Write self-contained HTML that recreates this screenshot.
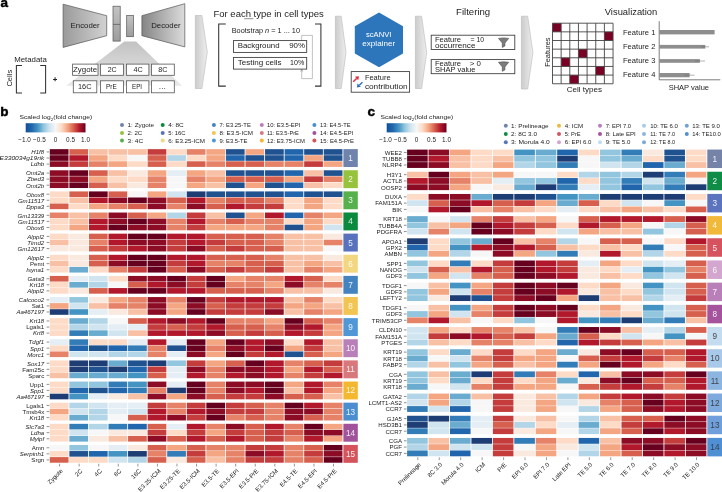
<!DOCTYPE html>
<html lang="en"><head><meta charset="utf-8"><title>Figure</title>
<style>html,body{margin:0;padding:0;background:#fff;}body{width:722px;height:492px;overflow:hidden;}svg{display:block;font-family:'Liberation Sans', sans-serif;}text{fill:#1c1c1c;}</style>
</head><body>
<svg width="722" height="492" viewBox="0 0 722 492">
<defs>
<linearGradient id="gEnc" x1="0" x2="1" y1="0" y2="0"><stop offset="0" stop-color="#9a9a9a"/><stop offset="1" stop-color="#d2d2d2"/></linearGradient>
<linearGradient id="gDec" x1="0" x2="1" y1="0" y2="0"><stop offset="0" stop-color="#858585"/><stop offset="1" stop-color="#dcdcdc"/></linearGradient>
<linearGradient id="gBar" x1="0" x2="0" y1="0" y2="1"><stop offset="0" stop-color="#c4c4c4"/><stop offset="1" stop-color="#9c9c9c"/></linearGradient>
<linearGradient id="gArr" x1="0" x2="1" y1="0" y2="0"><stop offset="0" stop-color="#cccccc"/><stop offset="1" stop-color="#eeeeee"/></linearGradient>
<linearGradient id="gTri" x1="0" x2="0" y1="0" y2="1"><stop offset="0" stop-color="#c2c2c2"/><stop offset="1" stop-color="#e9e9e9"/></linearGradient>
<linearGradient id="gCb" x1="0" x2="1" y1="0" y2="0"><stop offset="0.00" stop-color="#0f4f9a"/><stop offset="0.10" stop-color="#2166ac"/><stop offset="0.20" stop-color="#4393c3"/><stop offset="0.30" stop-color="#92c5de"/><stop offset="0.40" stop-color="#d1e5f0"/><stop offset="0.50" stop-color="#f7f7f7"/><stop offset="0.60" stop-color="#fddbc7"/><stop offset="0.70" stop-color="#f4a582"/><stop offset="0.80" stop-color="#d6604d"/><stop offset="0.90" stop-color="#b2182b"/><stop offset="1.00" stop-color="#67001f"/></linearGradient>
</defs>
<g id="panel-a">
<text x="0.5" y="6.5" font-size="13.5" font-weight="bold" style="fill:#000" stroke="#000" stroke-width="0.45">a</text>
<polygon points="124.3,41.4 136.1,41.4 182,85.7 66.2,85.7" fill="url(#gTri)"/>
<polygon points="63.1,4.2 106.7,15.7 106.7,35.7 63.1,47.4" fill="url(#gEnc)" stroke="#555" stroke-width="0.7"/>
<text x="70.6" y="27.7" font-size="7.4" textLength="29.1" lengthAdjust="spacingAndGlyphs">Encoder</text>
<rect x="113" y="6.2" width="7.2" height="34.9" fill="url(#gBar)" stroke="#555" stroke-width="0.7"/>
<line x1="113" x2="120.2" y1="24.4" y2="24.4" stroke="#555" stroke-width="0.7"/>
<rect x="126.7" y="15.5" width="6.7" height="21.2" fill="url(#gBar)" stroke="#555" stroke-width="0.7"/>
<polygon points="141.9,15.7 184.8,3.7 184.8,46.9 141.9,35.7" fill="url(#gDec)" stroke="#555" stroke-width="0.7"/>
<text x="151.2" y="27.7" font-size="7.4" textLength="29.4" lengthAdjust="spacingAndGlyphs">Decoder</text>
<text x="14.2" y="61.8" font-size="7.2" textLength="32.7" lengthAdjust="spacingAndGlyphs">Metadata</text>
<text transform="translate(11.5,86.6) rotate(-90)" font-size="7.4" textLength="16.8" lengthAdjust="spacingAndGlyphs">Cells</text>
<path d="M22,65.4 H16.4 V93 H22 M40.2,65.4 H45.6 V93 H40.2" fill="none" stroke="#333" stroke-width="1.05"/>
<text x="55.2" y="81.9" font-size="7.2" text-anchor="middle" stroke="#1c1c1c" stroke-width="0.35">+</text>
<rect x="72.6" y="64.1" width="25.4" height="11.2" fill="#fff" stroke="#555" stroke-width="0.8"/>
<text x="73.0" y="71.9" font-size="7.2" textLength="24.2" lengthAdjust="spacingAndGlyphs">Zygote</text>
<rect x="100.5" y="64.1" width="22.9" height="11.2" fill="#fff" stroke="#555" stroke-width="0.8"/>
<text x="107.7" y="71.9" font-size="7.2" textLength="9.0" lengthAdjust="spacingAndGlyphs">2C</text>
<rect x="126.4" y="64.1" width="22.5" height="11.2" fill="#fff" stroke="#555" stroke-width="0.8"/>
<text x="133.4" y="71.9" font-size="7.2" textLength="9.2" lengthAdjust="spacingAndGlyphs">4C</text>
<rect x="151.4" y="64.1" width="22.9" height="11.2" fill="#fff" stroke="#555" stroke-width="0.8"/>
<text x="158.3" y="71.9" font-size="7.2" textLength="9.2" lengthAdjust="spacingAndGlyphs">8C</text>
<rect x="73.3" y="80.8" width="23.5" height="12.0" fill="#fff" stroke="#555" stroke-width="0.8"/>
<text x="78.0" y="89.1" font-size="7.2" textLength="13.5" lengthAdjust="spacingAndGlyphs">16C</text>
<rect x="100.5" y="80.8" width="22.9" height="12.0" fill="#fff" stroke="#555" stroke-width="0.8"/>
<text x="106.0" y="89.1" font-size="7.2" textLength="10.7" lengthAdjust="spacingAndGlyphs">PrE</text>
<rect x="126.4" y="80.8" width="22.5" height="12.0" fill="#fff" stroke="#555" stroke-width="0.8"/>
<text x="132.1" y="89.1" font-size="7.2" textLength="10.0" lengthAdjust="spacingAndGlyphs">EPI</text>
<rect x="151.4" y="80.8" width="22.9" height="12.0" fill="#fff" stroke="#555" stroke-width="0.8"/>
<text x="158.8" y="89.1" font-size="7.2" textLength="7.0" lengthAdjust="spacingAndGlyphs">...</text>
<polygon points="195.3,15.5 201.9,15.5 207.3,52.0 201.9,88.5 195.3,88.5" fill="url(#gArr)" stroke="#b9b9b9" stroke-width="0.6"/>
<polygon points="335.4,16.2 341.2,16.2 346.0,52.4 341.2,88.5 335.4,88.5" fill="url(#gArr)" stroke="#b9b9b9" stroke-width="0.6"/>
<polygon points="415.4,16.2 421.6,16.2 426.7,52.4 421.6,88.5 415.4,88.5" fill="url(#gArr)" stroke="#b9b9b9" stroke-width="0.6"/>
<polygon points="521.4,16.2 527.7,16.2 532.9,52.6 527.7,89.0 521.4,89.0" fill="url(#gArr)" stroke="#b9b9b9" stroke-width="0.6"/>
<text x="213.5" y="17.3" font-size="8.7" textLength="110.2" lengthAdjust="spacingAndGlyphs">For each type in cell types</text>
<line x1="244.3" x2="253.3" y1="18.7" y2="18.7" stroke="#333" stroke-width="0.55"/>
<path d="M225.8,23.9 H218.7 V86.1 H225.8 M315,23.9 H320.9 V86.1 H315" fill="none" stroke="#333" stroke-width="1.05"/>
<text x="231.7" y="33.3" font-size="7.2" textLength="68.3" lengthAdjust="spacingAndGlyphs">Bootstrap <tspan font-style="italic">n</tspan> = 1 ... 10</text>
<path d="M301.7,35.4 H312.4 V78.6 H301.7 V69.5" fill="none" stroke="#999" stroke-width="0.6"/>
<line x1="301.7" x2="301.7" y1="35.4" y2="40.6" stroke="#999" stroke-width="0.6"/>
<path d="M300.6,71.6 L301.7,69.3 L302.8,71.6" fill="none" stroke="#777" stroke-width="0.5"/>
<rect x="233.5" y="40.6" width="73.2" height="11.8" fill="#fff" stroke="#383838" stroke-width="0.85"/>
<text x="237.7" y="48.2" font-size="7.4" textLength="41.9" lengthAdjust="spacingAndGlyphs">Background</text>
<text x="289.2" y="48.2" font-size="7.4" textLength="15.8" lengthAdjust="spacingAndGlyphs">90%</text>
<rect x="233.5" y="57.4" width="73.2" height="11.7" fill="#fff" stroke="#383838" stroke-width="0.85"/>
<text x="237.7" y="65.2" font-size="7.4" textLength="43.9" lengthAdjust="spacingAndGlyphs">Testing cells</text>
<text x="290.0" y="65.2" font-size="7.4" textLength="14.2" lengthAdjust="spacingAndGlyphs">10%</text>
<polygon points="379,12.5 403,26.2 403,53.6 379,67.3 354.8,53.6 354.8,26.2" fill="#2e76bc"/>
<text x="366.0" y="37.1" font-size="7.4" textLength="25.4" lengthAdjust="spacingAndGlyphs" style="fill:#fff">scANVI</text>
<text x="362.3" y="46.0" font-size="7.4" textLength="32.9" lengthAdjust="spacingAndGlyphs" style="fill:#fff">explainer</text>
<rect x="351.2" y="71.6" width="58.4" height="20.6" fill="#fff" stroke="#383838" stroke-width="0.85"/>
<text x="364.9" y="79.7" font-size="7.4" textLength="25.7" lengthAdjust="spacingAndGlyphs">Feature</text>
<text x="364.9" y="89.3" font-size="7.4" textLength="42.7" lengthAdjust="spacingAndGlyphs">contribution</text>
<path d="M353.2,81.8 L356.6,78.5" stroke="#e0263c" stroke-width="1.4" fill="none"/><polygon points="358.9,76.2 358.3,80.2 354.9,76.8" fill="#e0263c"/>
<path d="M362.5,82.2 L359.3,85.2" stroke="#2f6fc0" stroke-width="1.4" fill="none"/><polygon points="356.9,87.4 357.5,83.4 360.9,86.8" fill="#2f6fc0"/>
<text x="456.1" y="15.1" font-size="8.8" textLength="34.1" lengthAdjust="spacingAndGlyphs">Filtering</text>
<rect x="431.2" y="35.2" width="83.6" height="14.3" fill="#fff" stroke="#383838" stroke-width="0.85"/>
<text x="434.9" y="41.7" font-size="7.0" textLength="26.2" lengthAdjust="spacingAndGlyphs">Feature</text>
<text x="470.6" y="41.7" font-size="7.0" textLength="13.4" lengthAdjust="spacingAndGlyphs">= 10</text>
<text x="434.9" y="47.9" font-size="7.0" textLength="40.6" lengthAdjust="spacingAndGlyphs">occurrence</text>
<path d="M498.5,38.4 q5.1,-1 10.2,0 l-3.8,4.6 v3 l-2.6,1.4 v-4.4 z" fill="#7c7c7c" stroke="#4a4a4a" stroke-width="0.6" stroke-linejoin="round"/>
<rect x="431.2" y="59.6" width="83.6" height="14.1" fill="#fff" stroke="#383838" stroke-width="0.85"/>
<text x="434.9" y="66.1" font-size="7.0" textLength="26.2" lengthAdjust="spacingAndGlyphs">Feature</text>
<text x="469.8" y="66.1" font-size="7.0" textLength="11.2" lengthAdjust="spacingAndGlyphs">&gt; 0</text>
<text x="434.9" y="72.4" font-size="7.0" textLength="40.6" lengthAdjust="spacingAndGlyphs">SHAP value</text>
<path d="M498.5,62.3 q5.1,-1 10.2,0 l-3.8,4.6 v3 l-2.6,1.4 v-4.4 z" fill="#7c7c7c" stroke="#4a4a4a" stroke-width="0.6" stroke-linejoin="round"/>
<text x="604.8" y="15.2" font-size="8.8" textLength="52.4" lengthAdjust="spacingAndGlyphs">Visualization</text>
<rect x="569.80" y="75.10" width="8.65" height="8.65" fill="#7a0026"/>
<rect x="595.75" y="66.45" width="8.65" height="8.65" fill="#7a0026"/>
<rect x="578.45" y="49.15" width="8.65" height="8.65" fill="#7a0026"/>
<rect x="552.50" y="23.20" width="8.65" height="8.65" fill="#7a0026"/>
<rect x="604.40" y="31.85" width="8.65" height="8.65" fill="#7a0026"/>
<rect x="561.15" y="57.80" width="8.65" height="8.65" fill="#7a0026"/>
<path d="M552.50,23.20 V83.75 M552.50,23.20 H613.05 M561.15,23.20 V83.75 M552.50,31.85 H613.05 M569.80,23.20 V83.75 M552.50,40.50 H613.05 M578.45,23.20 V83.75 M552.50,49.15 H613.05 M587.10,23.20 V83.75 M552.50,57.80 H613.05 M595.75,23.20 V83.75 M552.50,66.45 H613.05 M604.40,23.20 V83.75 M552.50,75.10 H613.05 M613.05,23.20 V83.75 M552.50,83.75 H613.05 " stroke="#444" stroke-width="0.9" fill="none"/>
<text transform="translate(549.6,66.8) rotate(-90)" font-size="7.5" textLength="29.3" lengthAdjust="spacingAndGlyphs">Features</text>
<text x="566.7" y="92.3" font-size="7.4" textLength="35.4" lengthAdjust="spacingAndGlyphs">Cell types</text>
<path d="M659.2,21.2 V79.8 H720.3" fill="none" stroke="#444" stroke-width="0.7"/>
<rect x="659.2" y="30.0" width="55.4" height="4.4" fill="#8e8e8e"/>
<text x="623.0" y="34.5" font-size="7.4" textLength="32.4" lengthAdjust="spacingAndGlyphs">Feature 1</text>
<rect x="659.2" y="44.9" width="46.1" height="3.7" fill="#8e8e8e"/>
<path d="M701.5,46.8 H709.0" stroke="#666" stroke-width="0.5" fill="none"/>
<text x="623.0" y="48.7" font-size="7.4" textLength="32.4" lengthAdjust="spacingAndGlyphs">Feature 2</text>
<rect x="659.2" y="59.1" width="40.7" height="3.7" fill="#8e8e8e"/>
<path d="M695.0,61.0 H705.0" stroke="#666" stroke-width="0.5" fill="none"/>
<text x="623.0" y="62.9" font-size="7.4" textLength="32.4" lengthAdjust="spacingAndGlyphs">Feature 3</text>
<rect x="659.2" y="73.0" width="30.4" height="4.3" fill="#8e8e8e"/>
<path d="M684.5,75.2 H694.5" stroke="#666" stroke-width="0.5" fill="none"/>
<text x="623.0" y="77.4" font-size="7.4" textLength="32.4" lengthAdjust="spacingAndGlyphs">Feature 4</text>
<text x="668.7" y="90.0" font-size="7.4" textLength="40.3" lengthAdjust="spacingAndGlyphs">SHAP value</text>
</g>
<text x="0.2" y="115.9" font-size="13.5" font-weight="bold" style="fill:#000" stroke="#000" stroke-width="0.45">b</text>
<text x="19.5" y="119.4" font-size="6.0" textLength="72.7" lengthAdjust="spacingAndGlyphs">Scaled log<tspan font-size="4" dy="1.3">2</tspan><tspan dy="-1.3">(fold change)</tspan></text>
<rect x="25.7" y="123.2" width="59.8" height="9.2" fill="url(#gCb)"/>
<text x="24.5" y="142.3" font-size="6.4" text-anchor="middle">−1.0</text>
<text x="39.4" y="142.3" font-size="6.4" text-anchor="middle">−0.5</text>
<text x="55.6" y="142.3" font-size="6.4" text-anchor="middle">0</text>
<text x="70.5" y="142.3" font-size="6.4" text-anchor="middle">0.5</text>
<text x="85.5" y="142.3" font-size="6.4" text-anchor="middle">1.0</text>
<text x="367.5" y="115.9" font-size="13.5" font-weight="bold" style="fill:#000" stroke="#000" stroke-width="0.45">c</text>
<text x="380.5" y="119.4" font-size="6.0" textLength="72.7" lengthAdjust="spacingAndGlyphs">Scaled log<tspan font-size="4" dy="1.3">2</tspan><tspan dy="-1.3">(fold change)</tspan></text>
<rect x="386.7" y="123.2" width="59.8" height="9.2" fill="url(#gCb)"/>
<text x="385.5" y="142.3" font-size="6.4" text-anchor="middle">−1.0</text>
<text x="400.4" y="142.3" font-size="6.4" text-anchor="middle">−0.5</text>
<text x="416.6" y="142.3" font-size="6.4" text-anchor="middle">0</text>
<text x="431.5" y="142.3" font-size="6.4" text-anchor="middle">0.5</text>
<text x="446.5" y="142.3" font-size="6.4" text-anchor="middle">1.0</text>
<circle cx="122.0" cy="125.1" r="2" fill="#7083ad"/>
<text x="127.6" y="127.0" font-size="6.1" textLength="26.4" lengthAdjust="spacingAndGlyphs">1: Zygote</text>
<circle cx="122.0" cy="132.9" r="2" fill="#96c23c"/>
<text x="127.6" y="134.8" font-size="6.1" textLength="14.6" lengthAdjust="spacingAndGlyphs">2: 2C</text>
<circle cx="122.0" cy="140.6" r="2" fill="#56b14d"/>
<text x="127.6" y="142.5" font-size="6.1" textLength="15.6" lengthAdjust="spacingAndGlyphs">3: 4C</text>
<circle cx="162.7" cy="125.1" r="2" fill="#0a8a3c"/>
<text x="168.3" y="127.0" font-size="6.1" textLength="15.4" lengthAdjust="spacingAndGlyphs">4: 8C</text>
<circle cx="162.7" cy="132.9" r="2" fill="#5872bd"/>
<text x="168.3" y="134.8" font-size="6.1" textLength="17.3" lengthAdjust="spacingAndGlyphs">5: 16C</text>
<circle cx="162.7" cy="140.6" r="2" fill="#f2d680"/>
<text x="168.3" y="142.5" font-size="6.1" textLength="36.7" lengthAdjust="spacingAndGlyphs">6: E3.25-ICM</text>
<circle cx="213.9" cy="125.1" r="2" fill="#4383c0"/>
<text x="219.6" y="127.0" font-size="6.1" textLength="31.2" lengthAdjust="spacingAndGlyphs">7: E3.25-TE</text>
<circle cx="213.9" cy="132.9" r="2" fill="#f2c451"/>
<text x="219.6" y="134.8" font-size="6.1" textLength="33.3" lengthAdjust="spacingAndGlyphs">8: E3.5-ICM</text>
<circle cx="213.9" cy="140.6" r="2" fill="#4f97d6"/>
<text x="219.6" y="142.5" font-size="6.1" textLength="27.9" lengthAdjust="spacingAndGlyphs">9: E3.5-TE</text>
<circle cx="261.8" cy="125.1" r="2" fill="#b97fb8"/>
<text x="266.9" y="127.0" font-size="6.1" textLength="33.5" lengthAdjust="spacingAndGlyphs">10: E3.5-EPI</text>
<circle cx="261.8" cy="132.9" r="2" fill="#d9787c"/>
<text x="266.9" y="134.8" font-size="6.1" textLength="31.9" lengthAdjust="spacingAndGlyphs">11: E3.5-PrE</text>
<circle cx="261.8" cy="140.6" r="2" fill="#f3b730"/>
<text x="266.9" y="142.5" font-size="6.1" textLength="37.9" lengthAdjust="spacingAndGlyphs">12: E3.75-ICM</text>
<circle cx="314.4" cy="125.1" r="2" fill="#4a8ed0"/>
<text x="320.0" y="127.0" font-size="6.1" textLength="30.5" lengthAdjust="spacingAndGlyphs">13: E4.5-TE</text>
<circle cx="314.4" cy="132.9" r="2" fill="#a0529a"/>
<text x="320.0" y="134.8" font-size="6.1" textLength="33.2" lengthAdjust="spacingAndGlyphs">14: E4.5-EPI</text>
<circle cx="314.4" cy="140.6" r="2" fill="#d5545c"/>
<text x="320.0" y="142.5" font-size="6.1" textLength="33.9" lengthAdjust="spacingAndGlyphs">15: E4.5-PrE</text>
<circle cx="505.8" cy="125.7" r="2" fill="#7583a8"/>
<text x="511.1" y="127.6" font-size="6.1" textLength="37.4" lengthAdjust="spacingAndGlyphs">1: Prelineage</text>
<circle cx="505.8" cy="134.0" r="2" fill="#0f8c45"/>
<text x="511.1" y="135.9" font-size="6.1" textLength="25.9" lengthAdjust="spacingAndGlyphs">2: 8C 3.0</text>
<circle cx="505.8" cy="142.3" r="2" fill="#5b74bd"/>
<text x="511.1" y="144.2" font-size="6.1" textLength="38.7" lengthAdjust="spacingAndGlyphs">3: Morula 4.0</text>
<circle cx="559.0" cy="125.7" r="2" fill="#f0b93a"/>
<text x="564.8" y="127.6" font-size="6.1" textLength="18.3" lengthAdjust="spacingAndGlyphs">4: ICM</text>
<circle cx="559.0" cy="134.0" r="2" fill="#d4535e"/>
<text x="564.8" y="135.9" font-size="6.1" textLength="15.8" lengthAdjust="spacingAndGlyphs">5: PrE</text>
<circle cx="559.0" cy="142.3" r="2" fill="#d3a6cf"/>
<text x="564.8" y="144.2" font-size="6.1" textLength="26.6" lengthAdjust="spacingAndGlyphs">6: EPI 6.0</text>
<circle cx="600.0" cy="125.7" r="2" fill="#b97fb8"/>
<text x="605.7" y="127.6" font-size="6.1" textLength="25.4" lengthAdjust="spacingAndGlyphs">7: EPI 7.0</text>
<circle cx="600.0" cy="134.0" r="2" fill="#a4539c"/>
<text x="605.7" y="135.9" font-size="6.1" textLength="30.0" lengthAdjust="spacingAndGlyphs">8: Late EPI</text>
<circle cx="600.0" cy="142.3" r="2" fill="#c4dcf0"/>
<text x="605.7" y="144.2" font-size="6.1" textLength="24.6" lengthAdjust="spacingAndGlyphs">9: TE 5.0</text>
<circle cx="644.0" cy="125.7" r="2" fill="#a9c9ea"/>
<text x="650.2" y="127.6" font-size="6.1" textLength="27.8" lengthAdjust="spacingAndGlyphs">10: TE 6.0</text>
<circle cx="644.0" cy="134.0" r="2" fill="#8db5e2"/>
<text x="650.2" y="135.9" font-size="6.1" textLength="24.9" lengthAdjust="spacingAndGlyphs">11: TE 7.0</text>
<circle cx="644.0" cy="142.3" r="2" fill="#7eaade"/>
<text x="650.2" y="144.2" font-size="6.1" textLength="24.9" lengthAdjust="spacingAndGlyphs">12: TE 8.0</text>
<circle cx="686.8" cy="125.7" r="2" fill="#6fa0db"/>
<text x="692.2" y="127.6" font-size="6.1" textLength="27.8" lengthAdjust="spacingAndGlyphs">13: TE 9.0</text>
<circle cx="686.8" cy="134.0" r="2" fill="#4f8fd4"/>
<text x="692.2" y="135.9" font-size="6.1" textLength="28.6" lengthAdjust="spacingAndGlyphs">14: TE10.0</text>
<rect x="49.80" y="149.15" width="18.72" height="5.62" fill="#67001f"/>
<rect x="69.37" y="149.15" width="18.72" height="5.62" fill="#d6604d"/>
<rect x="88.93" y="149.15" width="18.72" height="5.62" fill="#f8c0a4"/>
<rect x="108.50" y="149.15" width="18.72" height="5.62" fill="#f8c0a4"/>
<rect x="128.07" y="149.15" width="18.72" height="5.62" fill="#f8c0a4"/>
<rect x="147.63" y="149.15" width="18.72" height="5.62" fill="#c43c3c"/>
<rect x="167.20" y="149.15" width="18.72" height="5.62" fill="#fddbc7"/>
<rect x="186.77" y="149.15" width="18.72" height="5.62" fill="#e58268"/>
<rect x="206.33" y="149.15" width="18.72" height="5.62" fill="#f4a582"/>
<rect x="225.90" y="149.15" width="18.72" height="5.62" fill="#205290"/>
<rect x="245.47" y="149.15" width="18.72" height="5.62" fill="#f4a582"/>
<rect x="265.03" y="149.15" width="18.72" height="5.62" fill="#205290"/>
<rect x="284.60" y="149.15" width="18.72" height="5.62" fill="#2166ac"/>
<rect x="304.17" y="149.15" width="18.72" height="5.62" fill="#205290"/>
<rect x="323.73" y="149.15" width="18.72" height="5.62" fill="#205290"/>
<line x1="46.6" x2="49.3" y1="151.93" y2="151.93" stroke="#333" stroke-width="0.55"/>
<text x="44.2" y="154.28" font-size="6.1" text-anchor="end" font-style="italic">H1f8</text>
<rect x="49.80" y="155.22" width="18.72" height="5.62" fill="#67001f"/>
<rect x="69.37" y="155.22" width="18.72" height="5.62" fill="#b2182b"/>
<rect x="88.93" y="155.22" width="18.72" height="5.62" fill="#f4a582"/>
<rect x="108.50" y="155.22" width="18.72" height="5.62" fill="#fddbc7"/>
<rect x="128.07" y="155.22" width="18.72" height="5.62" fill="#f7f7f7"/>
<rect x="147.63" y="155.22" width="18.72" height="5.62" fill="#d6604d"/>
<rect x="167.20" y="155.22" width="18.72" height="5.62" fill="#b2d5e7"/>
<rect x="186.77" y="155.22" width="18.72" height="5.62" fill="#fddbc7"/>
<rect x="206.33" y="155.22" width="18.72" height="5.62" fill="#f4a582"/>
<rect x="225.90" y="155.22" width="18.72" height="5.62" fill="#2166ac"/>
<rect x="245.47" y="155.22" width="18.72" height="5.62" fill="#205290"/>
<rect x="265.03" y="155.22" width="18.72" height="5.62" fill="#205290"/>
<rect x="284.60" y="155.22" width="18.72" height="5.62" fill="#2166ac"/>
<rect x="304.17" y="155.22" width="18.72" height="5.62" fill="#f4a582"/>
<rect x="323.73" y="155.22" width="18.72" height="5.62" fill="#205290"/>
<line x1="46.6" x2="49.3" y1="158.00" y2="158.00" stroke="#333" stroke-width="0.55"/>
<text x="44.2" y="160.35" font-size="6.1" text-anchor="end" font-style="italic" textLength="44.6" lengthAdjust="spacingAndGlyphs">E330034g19rik</text>
<rect x="49.80" y="161.28" width="18.72" height="5.62" fill="#8c0c25"/>
<rect x="69.37" y="161.28" width="18.72" height="5.62" fill="#c43c3c"/>
<rect x="88.93" y="161.28" width="18.72" height="5.62" fill="#e58268"/>
<rect x="108.50" y="161.28" width="18.72" height="5.62" fill="#f4a582"/>
<rect x="128.07" y="161.28" width="18.72" height="5.62" fill="#fddbc7"/>
<rect x="147.63" y="161.28" width="18.72" height="5.62" fill="#d6604d"/>
<rect x="167.20" y="161.28" width="18.72" height="5.62" fill="#fddbc7"/>
<rect x="186.77" y="161.28" width="18.72" height="5.62" fill="#d6604d"/>
<rect x="206.33" y="161.28" width="18.72" height="5.62" fill="#e58268"/>
<rect x="225.90" y="161.28" width="18.72" height="5.62" fill="#d6604d"/>
<rect x="245.47" y="161.28" width="18.72" height="5.62" fill="#d6604d"/>
<rect x="265.03" y="161.28" width="18.72" height="5.62" fill="#e58268"/>
<rect x="284.60" y="161.28" width="18.72" height="5.62" fill="#e58268"/>
<rect x="304.17" y="161.28" width="18.72" height="5.62" fill="#c43c3c"/>
<rect x="323.73" y="161.28" width="18.72" height="5.62" fill="#f4a582"/>
<line x1="46.6" x2="49.3" y1="164.07" y2="164.07" stroke="#333" stroke-width="0.55"/>
<text x="44.2" y="166.42" font-size="6.1" text-anchor="end" font-style="italic">Ldhb</text>
<rect x="49.80" y="170.28" width="18.72" height="5.62" fill="#8c0c25"/>
<rect x="69.37" y="170.28" width="18.72" height="5.62" fill="#67001f"/>
<rect x="88.93" y="170.28" width="18.72" height="5.62" fill="#d6604d"/>
<rect x="108.50" y="170.28" width="18.72" height="5.62" fill="#f8c0a4"/>
<rect x="128.07" y="170.28" width="18.72" height="5.62" fill="#fae9df"/>
<rect x="147.63" y="170.28" width="18.72" height="5.62" fill="#f4a582"/>
<rect x="167.20" y="170.28" width="18.72" height="5.62" fill="#e4eef4"/>
<rect x="186.77" y="170.28" width="18.72" height="5.62" fill="#f4a582"/>
<rect x="206.33" y="170.28" width="18.72" height="5.62" fill="#f8c0a4"/>
<rect x="225.90" y="170.28" width="18.72" height="5.62" fill="#205290"/>
<rect x="245.47" y="170.28" width="18.72" height="5.62" fill="#205290"/>
<rect x="265.03" y="170.28" width="18.72" height="5.62" fill="#205290"/>
<rect x="284.60" y="170.28" width="18.72" height="5.62" fill="#2166ac"/>
<rect x="304.17" y="170.28" width="18.72" height="5.62" fill="#f8c0a4"/>
<rect x="323.73" y="170.28" width="18.72" height="5.62" fill="#205290"/>
<line x1="46.6" x2="49.3" y1="173.06" y2="173.06" stroke="#333" stroke-width="0.55"/>
<text x="44.2" y="175.41" font-size="6.1" text-anchor="end" font-style="italic">Omt2a</text>
<rect x="49.80" y="176.35" width="18.72" height="5.62" fill="#8c0c25"/>
<rect x="69.37" y="176.35" width="18.72" height="5.62" fill="#8c0c25"/>
<rect x="88.93" y="176.35" width="18.72" height="5.62" fill="#f4a582"/>
<rect x="108.50" y="176.35" width="18.72" height="5.62" fill="#fddbc7"/>
<rect x="128.07" y="176.35" width="18.72" height="5.62" fill="#fddbc7"/>
<rect x="147.63" y="176.35" width="18.72" height="5.62" fill="#e58268"/>
<rect x="167.20" y="176.35" width="18.72" height="5.62" fill="#f7f7f7"/>
<rect x="186.77" y="176.35" width="18.72" height="5.62" fill="#e58268"/>
<rect x="206.33" y="176.35" width="18.72" height="5.62" fill="#f4a582"/>
<rect x="225.90" y="176.35" width="18.72" height="5.62" fill="#d6604d"/>
<rect x="245.47" y="176.35" width="18.72" height="5.62" fill="#d6604d"/>
<rect x="265.03" y="176.35" width="18.72" height="5.62" fill="#d6604d"/>
<rect x="284.60" y="176.35" width="18.72" height="5.62" fill="#f4a582"/>
<rect x="304.17" y="176.35" width="18.72" height="5.62" fill="#c43c3c"/>
<rect x="323.73" y="176.35" width="18.72" height="5.62" fill="#e58268"/>
<line x1="46.6" x2="49.3" y1="179.13" y2="179.13" stroke="#333" stroke-width="0.55"/>
<text x="44.2" y="181.48" font-size="6.1" text-anchor="end" font-style="italic">Zbed3</text>
<rect x="49.80" y="182.41" width="18.72" height="5.62" fill="#8c0c25"/>
<rect x="69.37" y="182.41" width="18.72" height="5.62" fill="#67001f"/>
<rect x="88.93" y="182.41" width="18.72" height="5.62" fill="#d6604d"/>
<rect x="108.50" y="182.41" width="18.72" height="5.62" fill="#f8c0a4"/>
<rect x="128.07" y="182.41" width="18.72" height="5.62" fill="#fae9df"/>
<rect x="147.63" y="182.41" width="18.72" height="5.62" fill="#e58268"/>
<rect x="167.20" y="182.41" width="18.72" height="5.62" fill="#f7f7f7"/>
<rect x="186.77" y="182.41" width="18.72" height="5.62" fill="#f4a582"/>
<rect x="206.33" y="182.41" width="18.72" height="5.62" fill="#f8c0a4"/>
<rect x="225.90" y="182.41" width="18.72" height="5.62" fill="#205290"/>
<rect x="245.47" y="182.41" width="18.72" height="5.62" fill="#f4a582"/>
<rect x="265.03" y="182.41" width="18.72" height="5.62" fill="#205290"/>
<rect x="284.60" y="182.41" width="18.72" height="5.62" fill="#2166ac"/>
<rect x="304.17" y="182.41" width="18.72" height="5.62" fill="#f8c0a4"/>
<rect x="323.73" y="182.41" width="18.72" height="5.62" fill="#fddbc7"/>
<line x1="46.6" x2="49.3" y1="185.20" y2="185.20" stroke="#333" stroke-width="0.55"/>
<text x="44.2" y="187.55" font-size="6.1" text-anchor="end" font-style="italic">Omt2b</text>
<rect x="49.80" y="191.41" width="18.72" height="5.62" fill="#fddbc7"/>
<rect x="69.37" y="191.41" width="18.72" height="5.62" fill="#d6604d"/>
<rect x="88.93" y="191.41" width="18.72" height="5.62" fill="#67001f"/>
<rect x="108.50" y="191.41" width="18.72" height="5.62" fill="#d6604d"/>
<rect x="128.07" y="191.41" width="18.72" height="5.62" fill="#f7f7f7"/>
<rect x="147.63" y="191.41" width="18.72" height="5.62" fill="#f4a582"/>
<rect x="167.20" y="191.41" width="18.72" height="5.62" fill="#d1e5f0"/>
<rect x="186.77" y="191.41" width="18.72" height="5.62" fill="#1f3d75"/>
<rect x="206.33" y="191.41" width="18.72" height="5.62" fill="#205290"/>
<rect x="225.90" y="191.41" width="18.72" height="5.62" fill="#205290"/>
<rect x="245.47" y="191.41" width="18.72" height="5.62" fill="#205290"/>
<rect x="265.03" y="191.41" width="18.72" height="5.62" fill="#205290"/>
<rect x="284.60" y="191.41" width="18.72" height="5.62" fill="#2166ac"/>
<rect x="304.17" y="191.41" width="18.72" height="5.62" fill="#205290"/>
<rect x="323.73" y="191.41" width="18.72" height="5.62" fill="#205290"/>
<line x1="46.6" x2="49.3" y1="194.19" y2="194.19" stroke="#333" stroke-width="0.55"/>
<text x="44.2" y="196.54" font-size="6.1" text-anchor="end" font-style="italic">Obox8</text>
<rect x="49.80" y="197.48" width="18.72" height="5.62" fill="#fddbc7"/>
<rect x="69.37" y="197.48" width="18.72" height="5.62" fill="#f8c0a4"/>
<rect x="88.93" y="197.48" width="18.72" height="5.62" fill="#b2182b"/>
<rect x="108.50" y="197.48" width="18.72" height="5.62" fill="#8c0c25"/>
<rect x="128.07" y="197.48" width="18.72" height="5.62" fill="#67001f"/>
<rect x="147.63" y="197.48" width="18.72" height="5.62" fill="#8c0c25"/>
<rect x="167.20" y="197.48" width="18.72" height="5.62" fill="#d6604d"/>
<rect x="186.77" y="197.48" width="18.72" height="5.62" fill="#b2182b"/>
<rect x="206.33" y="197.48" width="18.72" height="5.62" fill="#e58268"/>
<rect x="225.90" y="197.48" width="18.72" height="5.62" fill="#d6604d"/>
<rect x="245.47" y="197.48" width="18.72" height="5.62" fill="#d6604d"/>
<rect x="265.03" y="197.48" width="18.72" height="5.62" fill="#e58268"/>
<rect x="284.60" y="197.48" width="18.72" height="5.62" fill="#fddbc7"/>
<rect x="304.17" y="197.48" width="18.72" height="5.62" fill="#f4a582"/>
<rect x="323.73" y="197.48" width="18.72" height="5.62" fill="#fddbc7"/>
<line x1="46.6" x2="49.3" y1="200.26" y2="200.26" stroke="#333" stroke-width="0.55"/>
<text x="44.2" y="202.61" font-size="6.1" text-anchor="end" font-style="italic">Gm11517</text>
<rect x="49.80" y="203.54" width="18.72" height="5.62" fill="#d6604d"/>
<rect x="69.37" y="203.54" width="18.72" height="5.62" fill="#fddbc7"/>
<rect x="88.93" y="203.54" width="18.72" height="5.62" fill="#f4a582"/>
<rect x="108.50" y="203.54" width="18.72" height="5.62" fill="#e58268"/>
<rect x="128.07" y="203.54" width="18.72" height="5.62" fill="#d6604d"/>
<rect x="147.63" y="203.54" width="18.72" height="5.62" fill="#8c0c25"/>
<rect x="167.20" y="203.54" width="18.72" height="5.62" fill="#e58268"/>
<rect x="186.77" y="203.54" width="18.72" height="5.62" fill="#8c0c25"/>
<rect x="206.33" y="203.54" width="18.72" height="5.62" fill="#d6604d"/>
<rect x="225.90" y="203.54" width="18.72" height="5.62" fill="#b2182b"/>
<rect x="245.47" y="203.54" width="18.72" height="5.62" fill="#c43c3c"/>
<rect x="265.03" y="203.54" width="18.72" height="5.62" fill="#c43c3c"/>
<rect x="284.60" y="203.54" width="18.72" height="5.62" fill="#fddbc7"/>
<rect x="304.17" y="203.54" width="18.72" height="5.62" fill="#f4a582"/>
<rect x="323.73" y="203.54" width="18.72" height="5.62" fill="#fddbc7"/>
<line x1="46.6" x2="49.3" y1="206.33" y2="206.33" stroke="#333" stroke-width="0.55"/>
<text x="44.2" y="208.68" font-size="6.1" text-anchor="end" font-style="italic">Dppa3</text>
<rect x="49.80" y="212.54" width="18.72" height="5.62" fill="#e58268"/>
<rect x="69.37" y="212.54" width="18.72" height="5.62" fill="#f8c0a4"/>
<rect x="88.93" y="212.54" width="18.72" height="5.62" fill="#e58268"/>
<rect x="108.50" y="212.54" width="18.72" height="5.62" fill="#8c0c25"/>
<rect x="128.07" y="212.54" width="18.72" height="5.62" fill="#d6604d"/>
<rect x="147.63" y="212.54" width="18.72" height="5.62" fill="#f4a582"/>
<rect x="167.20" y="212.54" width="18.72" height="5.62" fill="#b2d5e7"/>
<rect x="186.77" y="212.54" width="18.72" height="5.62" fill="#c43c3c"/>
<rect x="206.33" y="212.54" width="18.72" height="5.62" fill="#f8c0a4"/>
<rect x="225.90" y="212.54" width="18.72" height="5.62" fill="#205290"/>
<rect x="245.47" y="212.54" width="18.72" height="5.62" fill="#f4a582"/>
<rect x="265.03" y="212.54" width="18.72" height="5.62" fill="#b2182b"/>
<rect x="284.60" y="212.54" width="18.72" height="5.62" fill="#2166ac"/>
<rect x="304.17" y="212.54" width="18.72" height="5.62" fill="#e58268"/>
<rect x="323.73" y="212.54" width="18.72" height="5.62" fill="#f4a582"/>
<line x1="46.6" x2="49.3" y1="215.32" y2="215.32" stroke="#333" stroke-width="0.55"/>
<text x="44.2" y="217.67" font-size="6.1" text-anchor="end" font-style="italic">Gm13339</text>
<rect x="49.80" y="218.61" width="18.72" height="5.62" fill="#fddbc7"/>
<rect x="69.37" y="218.61" width="18.72" height="5.62" fill="#f8c0a4"/>
<rect x="88.93" y="218.61" width="18.72" height="5.62" fill="#b2182b"/>
<rect x="108.50" y="218.61" width="18.72" height="5.62" fill="#8c0c25"/>
<rect x="128.07" y="218.61" width="18.72" height="5.62" fill="#67001f"/>
<rect x="147.63" y="218.61" width="18.72" height="5.62" fill="#8c0c25"/>
<rect x="167.20" y="218.61" width="18.72" height="5.62" fill="#e58268"/>
<rect x="186.77" y="218.61" width="18.72" height="5.62" fill="#b2182b"/>
<rect x="206.33" y="218.61" width="18.72" height="5.62" fill="#e58268"/>
<rect x="225.90" y="218.61" width="18.72" height="5.62" fill="#d6604d"/>
<rect x="245.47" y="218.61" width="18.72" height="5.62" fill="#e58268"/>
<rect x="265.03" y="218.61" width="18.72" height="5.62" fill="#e58268"/>
<rect x="284.60" y="218.61" width="18.72" height="5.62" fill="#fddbc7"/>
<rect x="304.17" y="218.61" width="18.72" height="5.62" fill="#f4a582"/>
<rect x="323.73" y="218.61" width="18.72" height="5.62" fill="#fddbc7"/>
<line x1="46.6" x2="49.3" y1="221.39" y2="221.39" stroke="#333" stroke-width="0.55"/>
<text x="44.2" y="223.74" font-size="6.1" text-anchor="end" font-style="italic">Gm11517</text>
<rect x="49.80" y="224.67" width="18.72" height="5.62" fill="#fddbc7"/>
<rect x="69.37" y="224.67" width="18.72" height="5.62" fill="#f4a582"/>
<rect x="88.93" y="224.67" width="18.72" height="5.62" fill="#b2182b"/>
<rect x="108.50" y="224.67" width="18.72" height="5.62" fill="#67001f"/>
<rect x="128.07" y="224.67" width="18.72" height="5.62" fill="#8c0c25"/>
<rect x="147.63" y="224.67" width="18.72" height="5.62" fill="#8c0c25"/>
<rect x="167.20" y="224.67" width="18.72" height="5.62" fill="#e58268"/>
<rect x="186.77" y="224.67" width="18.72" height="5.62" fill="#c43c3c"/>
<rect x="206.33" y="224.67" width="18.72" height="5.62" fill="#f4a582"/>
<rect x="225.90" y="224.67" width="18.72" height="5.62" fill="#f4a582"/>
<rect x="245.47" y="224.67" width="18.72" height="5.62" fill="#f4a582"/>
<rect x="265.03" y="224.67" width="18.72" height="5.62" fill="#e58268"/>
<rect x="284.60" y="224.67" width="18.72" height="5.62" fill="#205290"/>
<rect x="304.17" y="224.67" width="18.72" height="5.62" fill="#f4a582"/>
<rect x="323.73" y="224.67" width="18.72" height="5.62" fill="#d1e5f0"/>
<line x1="46.6" x2="49.3" y1="227.46" y2="227.46" stroke="#333" stroke-width="0.55"/>
<text x="44.2" y="229.81" font-size="6.1" text-anchor="end" font-style="italic">Obox6</text>
<rect x="49.80" y="233.67" width="18.72" height="5.62" fill="#fddbc7"/>
<rect x="69.37" y="233.67" width="18.72" height="5.62" fill="#fae9df"/>
<rect x="88.93" y="233.67" width="18.72" height="5.62" fill="#d6604d"/>
<rect x="108.50" y="233.67" width="18.72" height="5.62" fill="#b2182b"/>
<rect x="128.07" y="233.67" width="18.72" height="5.62" fill="#67001f"/>
<rect x="147.63" y="233.67" width="18.72" height="5.62" fill="#67001f"/>
<rect x="167.20" y="233.67" width="18.72" height="5.62" fill="#b2182b"/>
<rect x="186.77" y="233.67" width="18.72" height="5.62" fill="#b2182b"/>
<rect x="206.33" y="233.67" width="18.72" height="5.62" fill="#d6604d"/>
<rect x="225.90" y="233.67" width="18.72" height="5.62" fill="#d6604d"/>
<rect x="245.47" y="233.67" width="18.72" height="5.62" fill="#d6604d"/>
<rect x="265.03" y="233.67" width="18.72" height="5.62" fill="#e58268"/>
<rect x="284.60" y="233.67" width="18.72" height="5.62" fill="#f8c0a4"/>
<rect x="304.17" y="233.67" width="18.72" height="5.62" fill="#f8c0a4"/>
<rect x="323.73" y="233.67" width="18.72" height="5.62" fill="#fae9df"/>
<line x1="46.6" x2="49.3" y1="236.45" y2="236.45" stroke="#333" stroke-width="0.55"/>
<text x="44.2" y="238.80" font-size="6.1" text-anchor="end" font-style="italic">Alppl2</text>
<rect x="49.80" y="239.74" width="18.72" height="5.62" fill="#f8c0a4"/>
<rect x="69.37" y="239.74" width="18.72" height="5.62" fill="#fae9df"/>
<rect x="88.93" y="239.74" width="18.72" height="5.62" fill="#e58268"/>
<rect x="108.50" y="239.74" width="18.72" height="5.62" fill="#b2182b"/>
<rect x="128.07" y="239.74" width="18.72" height="5.62" fill="#8c0c25"/>
<rect x="147.63" y="239.74" width="18.72" height="5.62" fill="#8c0c25"/>
<rect x="167.20" y="239.74" width="18.72" height="5.62" fill="#c43c3c"/>
<rect x="186.77" y="239.74" width="18.72" height="5.62" fill="#b2182b"/>
<rect x="206.33" y="239.74" width="18.72" height="5.62" fill="#c43c3c"/>
<rect x="225.90" y="239.74" width="18.72" height="5.62" fill="#d6604d"/>
<rect x="245.47" y="239.74" width="18.72" height="5.62" fill="#d6604d"/>
<rect x="265.03" y="239.74" width="18.72" height="5.62" fill="#e58268"/>
<rect x="284.60" y="239.74" width="18.72" height="5.62" fill="#f8c0a4"/>
<rect x="304.17" y="239.74" width="18.72" height="5.62" fill="#f8c0a4"/>
<rect x="323.73" y="239.74" width="18.72" height="5.62" fill="#e58268"/>
<line x1="46.6" x2="49.3" y1="242.52" y2="242.52" stroke="#333" stroke-width="0.55"/>
<text x="44.2" y="244.87" font-size="6.1" text-anchor="end" font-style="italic">Timd2</text>
<rect x="49.80" y="245.80" width="18.72" height="5.62" fill="#fae9df"/>
<rect x="69.37" y="245.80" width="18.72" height="5.62" fill="#fae9df"/>
<rect x="88.93" y="245.80" width="18.72" height="5.62" fill="#d6604d"/>
<rect x="108.50" y="245.80" width="18.72" height="5.62" fill="#c43c3c"/>
<rect x="128.07" y="245.80" width="18.72" height="5.62" fill="#b2182b"/>
<rect x="147.63" y="245.80" width="18.72" height="5.62" fill="#8c0c25"/>
<rect x="167.20" y="245.80" width="18.72" height="5.62" fill="#c43c3c"/>
<rect x="186.77" y="245.80" width="18.72" height="5.62" fill="#8c0c25"/>
<rect x="206.33" y="245.80" width="18.72" height="5.62" fill="#d6604d"/>
<rect x="225.90" y="245.80" width="18.72" height="5.62" fill="#c43c3c"/>
<rect x="245.47" y="245.80" width="18.72" height="5.62" fill="#d6604d"/>
<rect x="265.03" y="245.80" width="18.72" height="5.62" fill="#d6604d"/>
<rect x="284.60" y="245.80" width="18.72" height="5.62" fill="#f8c0a4"/>
<rect x="304.17" y="245.80" width="18.72" height="5.62" fill="#f8c0a4"/>
<rect x="323.73" y="245.80" width="18.72" height="5.62" fill="#f7f7f7"/>
<line x1="46.6" x2="49.3" y1="248.59" y2="248.59" stroke="#333" stroke-width="0.55"/>
<text x="44.2" y="250.94" font-size="6.1" text-anchor="end" font-style="italic">Gm12617</text>
<rect x="49.80" y="254.80" width="18.72" height="5.62" fill="#fddbc7"/>
<rect x="69.37" y="254.80" width="18.72" height="5.62" fill="#fae9df"/>
<rect x="88.93" y="254.80" width="18.72" height="5.62" fill="#d6604d"/>
<rect x="108.50" y="254.80" width="18.72" height="5.62" fill="#b2182b"/>
<rect x="128.07" y="254.80" width="18.72" height="5.62" fill="#67001f"/>
<rect x="147.63" y="254.80" width="18.72" height="5.62" fill="#67001f"/>
<rect x="167.20" y="254.80" width="18.72" height="5.62" fill="#b2182b"/>
<rect x="186.77" y="254.80" width="18.72" height="5.62" fill="#b2182b"/>
<rect x="206.33" y="254.80" width="18.72" height="5.62" fill="#d6604d"/>
<rect x="225.90" y="254.80" width="18.72" height="5.62" fill="#d6604d"/>
<rect x="245.47" y="254.80" width="18.72" height="5.62" fill="#d6604d"/>
<rect x="265.03" y="254.80" width="18.72" height="5.62" fill="#e58268"/>
<rect x="284.60" y="254.80" width="18.72" height="5.62" fill="#f8c0a4"/>
<rect x="304.17" y="254.80" width="18.72" height="5.62" fill="#f8c0a4"/>
<rect x="323.73" y="254.80" width="18.72" height="5.62" fill="#fae9df"/>
<line x1="46.6" x2="49.3" y1="257.58" y2="257.58" stroke="#333" stroke-width="0.55"/>
<text x="44.2" y="259.93" font-size="6.1" text-anchor="end" font-style="italic">Alppl2</text>
<rect x="49.80" y="260.87" width="18.72" height="5.62" fill="#f8c0a4"/>
<rect x="69.37" y="260.87" width="18.72" height="5.62" fill="#fae9df"/>
<rect x="88.93" y="260.87" width="18.72" height="5.62" fill="#d6604d"/>
<rect x="108.50" y="260.87" width="18.72" height="5.62" fill="#8c0c25"/>
<rect x="128.07" y="260.87" width="18.72" height="5.62" fill="#67001f"/>
<rect x="147.63" y="260.87" width="18.72" height="5.62" fill="#67001f"/>
<rect x="167.20" y="260.87" width="18.72" height="5.62" fill="#c43c3c"/>
<rect x="186.77" y="260.87" width="18.72" height="5.62" fill="#b2182b"/>
<rect x="206.33" y="260.87" width="18.72" height="5.62" fill="#e58268"/>
<rect x="225.90" y="260.87" width="18.72" height="5.62" fill="#e58268"/>
<rect x="245.47" y="260.87" width="18.72" height="5.62" fill="#d6604d"/>
<rect x="265.03" y="260.87" width="18.72" height="5.62" fill="#d6604d"/>
<rect x="284.60" y="260.87" width="18.72" height="5.62" fill="#f8c0a4"/>
<rect x="304.17" y="260.87" width="18.72" height="5.62" fill="#f4a582"/>
<rect x="323.73" y="260.87" width="18.72" height="5.62" fill="#f8c0a4"/>
<line x1="46.6" x2="49.3" y1="263.65" y2="263.65" stroke="#333" stroke-width="0.55"/>
<text x="44.2" y="266.00" font-size="6.1" text-anchor="end">Pemt</text>
<rect x="49.80" y="266.93" width="18.72" height="5.62" fill="#fddbc7"/>
<rect x="69.37" y="266.93" width="18.72" height="5.62" fill="#6aacd0"/>
<rect x="88.93" y="266.93" width="18.72" height="5.62" fill="#fddbc7"/>
<rect x="108.50" y="266.93" width="18.72" height="5.62" fill="#e58268"/>
<rect x="128.07" y="266.93" width="18.72" height="5.62" fill="#c43c3c"/>
<rect x="147.63" y="266.93" width="18.72" height="5.62" fill="#67001f"/>
<rect x="167.20" y="266.93" width="18.72" height="5.62" fill="#d6604d"/>
<rect x="186.77" y="266.93" width="18.72" height="5.62" fill="#8c0c25"/>
<rect x="206.33" y="266.93" width="18.72" height="5.62" fill="#d6604d"/>
<rect x="225.90" y="266.93" width="18.72" height="5.62" fill="#c43c3c"/>
<rect x="245.47" y="266.93" width="18.72" height="5.62" fill="#d6604d"/>
<rect x="265.03" y="266.93" width="18.72" height="5.62" fill="#c43c3c"/>
<rect x="284.60" y="266.93" width="18.72" height="5.62" fill="#f8c0a4"/>
<rect x="304.17" y="266.93" width="18.72" height="5.62" fill="#e58268"/>
<rect x="323.73" y="266.93" width="18.72" height="5.62" fill="#f4a582"/>
<line x1="46.6" x2="49.3" y1="269.72" y2="269.72" stroke="#333" stroke-width="0.55"/>
<text x="44.2" y="272.07" font-size="6.1" text-anchor="end" font-style="italic">Isyna1</text>
<rect x="49.80" y="275.93" width="18.72" height="5.62" fill="#d6604d"/>
<rect x="69.37" y="275.93" width="18.72" height="5.62" fill="#e4eef4"/>
<rect x="88.93" y="275.93" width="18.72" height="5.62" fill="#d1e5f0"/>
<rect x="108.50" y="275.93" width="18.72" height="5.62" fill="#fddbc7"/>
<rect x="128.07" y="275.93" width="18.72" height="5.62" fill="#8c0c25"/>
<rect x="147.63" y="275.93" width="18.72" height="5.62" fill="#8c0c25"/>
<rect x="167.20" y="275.93" width="18.72" height="5.62" fill="#67001f"/>
<rect x="186.77" y="275.93" width="18.72" height="5.62" fill="#c43c3c"/>
<rect x="206.33" y="275.93" width="18.72" height="5.62" fill="#67001f"/>
<rect x="225.90" y="275.93" width="18.72" height="5.62" fill="#f4a582"/>
<rect x="245.47" y="275.93" width="18.72" height="5.62" fill="#e58268"/>
<rect x="265.03" y="275.93" width="18.72" height="5.62" fill="#e58268"/>
<rect x="284.60" y="275.93" width="18.72" height="5.62" fill="#b2182b"/>
<rect x="304.17" y="275.93" width="18.72" height="5.62" fill="#d6604d"/>
<rect x="323.73" y="275.93" width="18.72" height="5.62" fill="#fddbc7"/>
<line x1="46.6" x2="49.3" y1="278.71" y2="278.71" stroke="#333" stroke-width="0.55"/>
<text x="44.2" y="281.06" font-size="6.1" text-anchor="end" font-style="italic">Gata3</text>
<rect x="49.80" y="282.00" width="18.72" height="5.62" fill="#fddbc7"/>
<rect x="69.37" y="282.00" width="18.72" height="5.62" fill="#6aacd0"/>
<rect x="88.93" y="282.00" width="18.72" height="5.62" fill="#b2d5e7"/>
<rect x="108.50" y="282.00" width="18.72" height="5.62" fill="#f7f7f7"/>
<rect x="128.07" y="282.00" width="18.72" height="5.62" fill="#d6604d"/>
<rect x="147.63" y="282.00" width="18.72" height="5.62" fill="#b2182b"/>
<rect x="167.20" y="282.00" width="18.72" height="5.62" fill="#8c0c25"/>
<rect x="186.77" y="282.00" width="18.72" height="5.62" fill="#c43c3c"/>
<rect x="206.33" y="282.00" width="18.72" height="5.62" fill="#67001f"/>
<rect x="225.90" y="282.00" width="18.72" height="5.62" fill="#e58268"/>
<rect x="245.47" y="282.00" width="18.72" height="5.62" fill="#e58268"/>
<rect x="265.03" y="282.00" width="18.72" height="5.62" fill="#f4a582"/>
<rect x="284.60" y="282.00" width="18.72" height="5.62" fill="#8c0c25"/>
<rect x="304.17" y="282.00" width="18.72" height="5.62" fill="#e58268"/>
<rect x="323.73" y="282.00" width="18.72" height="5.62" fill="#e58268"/>
<line x1="46.6" x2="49.3" y1="284.78" y2="284.78" stroke="#333" stroke-width="0.55"/>
<text x="44.2" y="287.13" font-size="6.1" text-anchor="end" font-style="italic">Krt18</text>
<rect x="49.80" y="288.06" width="18.72" height="5.62" fill="#fddbc7"/>
<rect x="69.37" y="288.06" width="18.72" height="5.62" fill="#fae9df"/>
<rect x="88.93" y="288.06" width="18.72" height="5.62" fill="#d6604d"/>
<rect x="108.50" y="288.06" width="18.72" height="5.62" fill="#b2182b"/>
<rect x="128.07" y="288.06" width="18.72" height="5.62" fill="#67001f"/>
<rect x="147.63" y="288.06" width="18.72" height="5.62" fill="#67001f"/>
<rect x="167.20" y="288.06" width="18.72" height="5.62" fill="#b2182b"/>
<rect x="186.77" y="288.06" width="18.72" height="5.62" fill="#b2182b"/>
<rect x="206.33" y="288.06" width="18.72" height="5.62" fill="#d6604d"/>
<rect x="225.90" y="288.06" width="18.72" height="5.62" fill="#d6604d"/>
<rect x="245.47" y="288.06" width="18.72" height="5.62" fill="#d6604d"/>
<rect x="265.03" y="288.06" width="18.72" height="5.62" fill="#e58268"/>
<rect x="284.60" y="288.06" width="18.72" height="5.62" fill="#f8c0a4"/>
<rect x="304.17" y="288.06" width="18.72" height="5.62" fill="#f8c0a4"/>
<rect x="323.73" y="288.06" width="18.72" height="5.62" fill="#fae9df"/>
<line x1="46.6" x2="49.3" y1="290.85" y2="290.85" stroke="#333" stroke-width="0.55"/>
<text x="44.2" y="293.20" font-size="6.1" text-anchor="end" font-style="italic">Alppl2</text>
<rect x="49.80" y="297.06" width="18.72" height="5.62" fill="#e4eef4"/>
<rect x="69.37" y="297.06" width="18.72" height="5.62" fill="#92c5de"/>
<rect x="88.93" y="297.06" width="18.72" height="5.62" fill="#fae9df"/>
<rect x="108.50" y="297.06" width="18.72" height="5.62" fill="#f4a582"/>
<rect x="128.07" y="297.06" width="18.72" height="5.62" fill="#e58268"/>
<rect x="147.63" y="297.06" width="18.72" height="5.62" fill="#8c0c25"/>
<rect x="167.20" y="297.06" width="18.72" height="5.62" fill="#e58268"/>
<rect x="186.77" y="297.06" width="18.72" height="5.62" fill="#67001f"/>
<rect x="206.33" y="297.06" width="18.72" height="5.62" fill="#c43c3c"/>
<rect x="225.90" y="297.06" width="18.72" height="5.62" fill="#b2182b"/>
<rect x="245.47" y="297.06" width="18.72" height="5.62" fill="#b2182b"/>
<rect x="265.03" y="297.06" width="18.72" height="5.62" fill="#b2182b"/>
<rect x="284.60" y="297.06" width="18.72" height="5.62" fill="#f8c0a4"/>
<rect x="304.17" y="297.06" width="18.72" height="5.62" fill="#e58268"/>
<rect x="323.73" y="297.06" width="18.72" height="5.62" fill="#fddbc7"/>
<line x1="46.6" x2="49.3" y1="299.84" y2="299.84" stroke="#333" stroke-width="0.55"/>
<text x="44.2" y="302.19" font-size="6.1" text-anchor="end" font-style="italic">Calcoco2</text>
<rect x="49.80" y="303.13" width="18.72" height="5.62" fill="#f4a582"/>
<rect x="69.37" y="303.13" width="18.72" height="5.62" fill="#d1e5f0"/>
<rect x="88.93" y="303.13" width="18.72" height="5.62" fill="#f8c0a4"/>
<rect x="108.50" y="303.13" width="18.72" height="5.62" fill="#e58268"/>
<rect x="128.07" y="303.13" width="18.72" height="5.62" fill="#e58268"/>
<rect x="147.63" y="303.13" width="18.72" height="5.62" fill="#8c0c25"/>
<rect x="167.20" y="303.13" width="18.72" height="5.62" fill="#f4a582"/>
<rect x="186.77" y="303.13" width="18.72" height="5.62" fill="#8c0c25"/>
<rect x="206.33" y="303.13" width="18.72" height="5.62" fill="#d6604d"/>
<rect x="225.90" y="303.13" width="18.72" height="5.62" fill="#c43c3c"/>
<rect x="245.47" y="303.13" width="18.72" height="5.62" fill="#c43c3c"/>
<rect x="265.03" y="303.13" width="18.72" height="5.62" fill="#c43c3c"/>
<rect x="284.60" y="303.13" width="18.72" height="5.62" fill="#f4a582"/>
<rect x="304.17" y="303.13" width="18.72" height="5.62" fill="#f4a582"/>
<rect x="323.73" y="303.13" width="18.72" height="5.62" fill="#f8c0a4"/>
<line x1="46.6" x2="49.3" y1="305.91" y2="305.91" stroke="#333" stroke-width="0.55"/>
<text x="44.2" y="308.26" font-size="6.1" text-anchor="end">Sat1</text>
<rect x="49.80" y="309.19" width="18.72" height="5.62" fill="#1f3d75"/>
<rect x="69.37" y="309.19" width="18.72" height="5.62" fill="#4393c3"/>
<rect x="88.93" y="309.19" width="18.72" height="5.62" fill="#e4eef4"/>
<rect x="108.50" y="309.19" width="18.72" height="5.62" fill="#fae9df"/>
<rect x="128.07" y="309.19" width="18.72" height="5.62" fill="#f8c0a4"/>
<rect x="147.63" y="309.19" width="18.72" height="5.62" fill="#8c0c25"/>
<rect x="167.20" y="309.19" width="18.72" height="5.62" fill="#f4a582"/>
<rect x="186.77" y="309.19" width="18.72" height="5.62" fill="#67001f"/>
<rect x="206.33" y="309.19" width="18.72" height="5.62" fill="#c43c3c"/>
<rect x="225.90" y="309.19" width="18.72" height="5.62" fill="#c43c3c"/>
<rect x="245.47" y="309.19" width="18.72" height="5.62" fill="#c43c3c"/>
<rect x="265.03" y="309.19" width="18.72" height="5.62" fill="#8c0c25"/>
<rect x="284.60" y="309.19" width="18.72" height="5.62" fill="#f8c0a4"/>
<rect x="304.17" y="309.19" width="18.72" height="5.62" fill="#e58268"/>
<rect x="323.73" y="309.19" width="18.72" height="5.62" fill="#f4a582"/>
<line x1="46.6" x2="49.3" y1="311.98" y2="311.98" stroke="#333" stroke-width="0.55"/>
<text x="44.2" y="314.33" font-size="6.1" text-anchor="end" font-style="italic">Aa467197</text>
<rect x="49.80" y="318.19" width="18.72" height="5.62" fill="#fddbc7"/>
<rect x="69.37" y="318.19" width="18.72" height="5.62" fill="#6aacd0"/>
<rect x="88.93" y="318.19" width="18.72" height="5.62" fill="#b2d5e7"/>
<rect x="108.50" y="318.19" width="18.72" height="5.62" fill="#f7f7f7"/>
<rect x="128.07" y="318.19" width="18.72" height="5.62" fill="#d6604d"/>
<rect x="147.63" y="318.19" width="18.72" height="5.62" fill="#b2182b"/>
<rect x="167.20" y="318.19" width="18.72" height="5.62" fill="#8c0c25"/>
<rect x="186.77" y="318.19" width="18.72" height="5.62" fill="#b2182b"/>
<rect x="206.33" y="318.19" width="18.72" height="5.62" fill="#67001f"/>
<rect x="225.90" y="318.19" width="18.72" height="5.62" fill="#e58268"/>
<rect x="245.47" y="318.19" width="18.72" height="5.62" fill="#e58268"/>
<rect x="265.03" y="318.19" width="18.72" height="5.62" fill="#f4a582"/>
<rect x="284.60" y="318.19" width="18.72" height="5.62" fill="#67001f"/>
<rect x="304.17" y="318.19" width="18.72" height="5.62" fill="#d6604d"/>
<rect x="323.73" y="318.19" width="18.72" height="5.62" fill="#e58268"/>
<line x1="46.6" x2="49.3" y1="320.97" y2="320.97" stroke="#333" stroke-width="0.55"/>
<text x="44.2" y="323.32" font-size="6.1" text-anchor="end" font-style="italic">Krt18</text>
<rect x="49.80" y="324.26" width="18.72" height="5.62" fill="#fddbc7"/>
<rect x="69.37" y="324.26" width="18.72" height="5.62" fill="#b2d5e7"/>
<rect x="88.93" y="324.26" width="18.72" height="5.62" fill="#d1e5f0"/>
<rect x="108.50" y="324.26" width="18.72" height="5.62" fill="#e4eef4"/>
<rect x="128.07" y="324.26" width="18.72" height="5.62" fill="#e4eef4"/>
<rect x="147.63" y="324.26" width="18.72" height="5.62" fill="#c43c3c"/>
<rect x="167.20" y="324.26" width="18.72" height="5.62" fill="#d6604d"/>
<rect x="186.77" y="324.26" width="18.72" height="5.62" fill="#c43c3c"/>
<rect x="206.33" y="324.26" width="18.72" height="5.62" fill="#b2182b"/>
<rect x="225.90" y="324.26" width="18.72" height="5.62" fill="#d6604d"/>
<rect x="245.47" y="324.26" width="18.72" height="5.62" fill="#d6604d"/>
<rect x="265.03" y="324.26" width="18.72" height="5.62" fill="#e58268"/>
<rect x="284.60" y="324.26" width="18.72" height="5.62" fill="#8c0c25"/>
<rect x="304.17" y="324.26" width="18.72" height="5.62" fill="#b2182b"/>
<rect x="323.73" y="324.26" width="18.72" height="5.62" fill="#f4a582"/>
<line x1="46.6" x2="49.3" y1="327.04" y2="327.04" stroke="#333" stroke-width="0.55"/>
<text x="44.2" y="329.39" font-size="6.1" text-anchor="end">Lgals1</text>
<rect x="49.80" y="330.32" width="18.72" height="5.62" fill="#fddbc7"/>
<rect x="69.37" y="330.32" width="18.72" height="5.62" fill="#327cb8"/>
<rect x="88.93" y="330.32" width="18.72" height="5.62" fill="#6aacd0"/>
<rect x="108.50" y="330.32" width="18.72" height="5.62" fill="#d1e5f0"/>
<rect x="128.07" y="330.32" width="18.72" height="5.62" fill="#f8c0a4"/>
<rect x="147.63" y="330.32" width="18.72" height="5.62" fill="#b2182b"/>
<rect x="167.20" y="330.32" width="18.72" height="5.62" fill="#b2182b"/>
<rect x="186.77" y="330.32" width="18.72" height="5.62" fill="#b2182b"/>
<rect x="206.33" y="330.32" width="18.72" height="5.62" fill="#8c0c25"/>
<rect x="225.90" y="330.32" width="18.72" height="5.62" fill="#d6604d"/>
<rect x="245.47" y="330.32" width="18.72" height="5.62" fill="#c43c3c"/>
<rect x="265.03" y="330.32" width="18.72" height="5.62" fill="#d6604d"/>
<rect x="284.60" y="330.32" width="18.72" height="5.62" fill="#b2182b"/>
<rect x="304.17" y="330.32" width="18.72" height="5.62" fill="#c43c3c"/>
<rect x="323.73" y="330.32" width="18.72" height="5.62" fill="#f4a582"/>
<line x1="46.6" x2="49.3" y1="333.11" y2="333.11" stroke="#333" stroke-width="0.55"/>
<text x="44.2" y="335.46" font-size="6.1" text-anchor="end" font-style="italic">Krt8</text>
<rect x="49.80" y="339.32" width="18.72" height="5.62" fill="#e4eef4"/>
<rect x="69.37" y="339.32" width="18.72" height="5.62" fill="#327cb8"/>
<rect x="88.93" y="339.32" width="18.72" height="5.62" fill="#fddbc7"/>
<rect x="108.50" y="339.32" width="18.72" height="5.62" fill="#fddbc7"/>
<rect x="128.07" y="339.32" width="18.72" height="5.62" fill="#e4eef4"/>
<rect x="147.63" y="339.32" width="18.72" height="5.62" fill="#b2182b"/>
<rect x="167.20" y="339.32" width="18.72" height="5.62" fill="#e4eef4"/>
<rect x="186.77" y="339.32" width="18.72" height="5.62" fill="#67001f"/>
<rect x="206.33" y="339.32" width="18.72" height="5.62" fill="#f4a582"/>
<rect x="225.90" y="339.32" width="18.72" height="5.62" fill="#67001f"/>
<rect x="245.47" y="339.32" width="18.72" height="5.62" fill="#b2182b"/>
<rect x="265.03" y="339.32" width="18.72" height="5.62" fill="#8c0c25"/>
<rect x="284.60" y="339.32" width="18.72" height="5.62" fill="#fddbc7"/>
<rect x="304.17" y="339.32" width="18.72" height="5.62" fill="#b2182b"/>
<rect x="323.73" y="339.32" width="18.72" height="5.62" fill="#f8c0a4"/>
<line x1="46.6" x2="49.3" y1="342.10" y2="342.10" stroke="#333" stroke-width="0.55"/>
<text x="44.2" y="344.45" font-size="6.1" text-anchor="end" font-style="italic">Tdgf1</text>
<rect x="49.80" y="345.39" width="18.72" height="5.62" fill="#fddbc7"/>
<rect x="69.37" y="345.39" width="18.72" height="5.62" fill="#2166ac"/>
<rect x="88.93" y="345.39" width="18.72" height="5.62" fill="#205290"/>
<rect x="108.50" y="345.39" width="18.72" height="5.62" fill="#2166ac"/>
<rect x="128.07" y="345.39" width="18.72" height="5.62" fill="#327cb8"/>
<rect x="147.63" y="345.39" width="18.72" height="5.62" fill="#e58268"/>
<rect x="167.20" y="345.39" width="18.72" height="5.62" fill="#205290"/>
<rect x="186.77" y="345.39" width="18.72" height="5.62" fill="#67001f"/>
<rect x="206.33" y="345.39" width="18.72" height="5.62" fill="#e58268"/>
<rect x="225.90" y="345.39" width="18.72" height="5.62" fill="#8c0c25"/>
<rect x="245.47" y="345.39" width="18.72" height="5.62" fill="#b2182b"/>
<rect x="265.03" y="345.39" width="18.72" height="5.62" fill="#67001f"/>
<rect x="284.60" y="345.39" width="18.72" height="5.62" fill="#f4a582"/>
<rect x="304.17" y="345.39" width="18.72" height="5.62" fill="#c43c3c"/>
<rect x="323.73" y="345.39" width="18.72" height="5.62" fill="#f8c0a4"/>
<line x1="46.6" x2="49.3" y1="348.17" y2="348.17" stroke="#333" stroke-width="0.55"/>
<text x="44.2" y="350.52" font-size="6.1" text-anchor="end" font-style="italic">Spp1</text>
<rect x="49.80" y="351.45" width="18.72" height="5.62" fill="#e58268"/>
<rect x="69.37" y="351.45" width="18.72" height="5.62" fill="#d1e5f0"/>
<rect x="88.93" y="351.45" width="18.72" height="5.62" fill="#d1e5f0"/>
<rect x="108.50" y="351.45" width="18.72" height="5.62" fill="#b2d5e7"/>
<rect x="128.07" y="351.45" width="18.72" height="5.62" fill="#b2d5e7"/>
<rect x="147.63" y="351.45" width="18.72" height="5.62" fill="#e58268"/>
<rect x="167.20" y="351.45" width="18.72" height="5.62" fill="#e4eef4"/>
<rect x="186.77" y="351.45" width="18.72" height="5.62" fill="#8c0c25"/>
<rect x="206.33" y="351.45" width="18.72" height="5.62" fill="#f4a582"/>
<rect x="225.90" y="351.45" width="18.72" height="5.62" fill="#67001f"/>
<rect x="245.47" y="351.45" width="18.72" height="5.62" fill="#c43c3c"/>
<rect x="265.03" y="351.45" width="18.72" height="5.62" fill="#b2182b"/>
<rect x="284.60" y="351.45" width="18.72" height="5.62" fill="#205290"/>
<rect x="304.17" y="351.45" width="18.72" height="5.62" fill="#d6604d"/>
<rect x="323.73" y="351.45" width="18.72" height="5.62" fill="#f4a582"/>
<line x1="46.6" x2="49.3" y1="354.24" y2="354.24" stroke="#333" stroke-width="0.55"/>
<text x="44.2" y="356.59" font-size="6.1" text-anchor="end" font-style="italic">Morc1</text>
<rect x="49.80" y="360.45" width="18.72" height="5.62" fill="#fddbc7"/>
<rect x="69.37" y="360.45" width="18.72" height="5.62" fill="#1f3d75"/>
<rect x="88.93" y="360.45" width="18.72" height="5.62" fill="#1f3d75"/>
<rect x="108.50" y="360.45" width="18.72" height="5.62" fill="#6aacd0"/>
<rect x="128.07" y="360.45" width="18.72" height="5.62" fill="#205290"/>
<rect x="147.63" y="360.45" width="18.72" height="5.62" fill="#1f3d75"/>
<rect x="167.20" y="360.45" width="18.72" height="5.62" fill="#92c5de"/>
<rect x="186.77" y="360.45" width="18.72" height="5.62" fill="#c43c3c"/>
<rect x="206.33" y="360.45" width="18.72" height="5.62" fill="#f4a582"/>
<rect x="225.90" y="360.45" width="18.72" height="5.62" fill="#d6604d"/>
<rect x="245.47" y="360.45" width="18.72" height="5.62" fill="#67001f"/>
<rect x="265.03" y="360.45" width="18.72" height="5.62" fill="#b2182b"/>
<rect x="284.60" y="360.45" width="18.72" height="5.62" fill="#e58268"/>
<rect x="304.17" y="360.45" width="18.72" height="5.62" fill="#d6604d"/>
<rect x="323.73" y="360.45" width="18.72" height="5.62" fill="#c43c3c"/>
<line x1="46.6" x2="49.3" y1="363.23" y2="363.23" stroke="#333" stroke-width="0.55"/>
<text x="44.2" y="365.58" font-size="6.1" text-anchor="end" font-style="italic">Sox17</text>
<rect x="49.80" y="366.52" width="18.72" height="5.62" fill="#fddbc7"/>
<rect x="69.37" y="366.52" width="18.72" height="5.62" fill="#1f3d75"/>
<rect x="88.93" y="366.52" width="18.72" height="5.62" fill="#205290"/>
<rect x="108.50" y="366.52" width="18.72" height="5.62" fill="#1f3d75"/>
<rect x="128.07" y="366.52" width="18.72" height="5.62" fill="#2166ac"/>
<rect x="147.63" y="366.52" width="18.72" height="5.62" fill="#c43c3c"/>
<rect x="167.20" y="366.52" width="18.72" height="5.62" fill="#e4eef4"/>
<rect x="186.77" y="366.52" width="18.72" height="5.62" fill="#8c0c25"/>
<rect x="206.33" y="366.52" width="18.72" height="5.62" fill="#e58268"/>
<rect x="225.90" y="366.52" width="18.72" height="5.62" fill="#8c0c25"/>
<rect x="245.47" y="366.52" width="18.72" height="5.62" fill="#8c0c25"/>
<rect x="265.03" y="366.52" width="18.72" height="5.62" fill="#b2182b"/>
<rect x="284.60" y="366.52" width="18.72" height="5.62" fill="#f4a582"/>
<rect x="304.17" y="366.52" width="18.72" height="5.62" fill="#b2182b"/>
<rect x="323.73" y="366.52" width="18.72" height="5.62" fill="#d6604d"/>
<line x1="46.6" x2="49.3" y1="369.30" y2="369.30" stroke="#333" stroke-width="0.55"/>
<text x="44.2" y="371.65" font-size="6.1" text-anchor="end">Fam25c</text>
<rect x="49.80" y="372.58" width="18.72" height="5.62" fill="#f8c0a4"/>
<rect x="69.37" y="372.58" width="18.72" height="5.62" fill="#6aacd0"/>
<rect x="88.93" y="372.58" width="18.72" height="5.62" fill="#6aacd0"/>
<rect x="108.50" y="372.58" width="18.72" height="5.62" fill="#6aacd0"/>
<rect x="128.07" y="372.58" width="18.72" height="5.62" fill="#4393c3"/>
<rect x="147.63" y="372.58" width="18.72" height="5.62" fill="#d6604d"/>
<rect x="167.20" y="372.58" width="18.72" height="5.62" fill="#e4eef4"/>
<rect x="186.77" y="372.58" width="18.72" height="5.62" fill="#b2182b"/>
<rect x="206.33" y="372.58" width="18.72" height="5.62" fill="#e58268"/>
<rect x="225.90" y="372.58" width="18.72" height="5.62" fill="#b2182b"/>
<rect x="245.47" y="372.58" width="18.72" height="5.62" fill="#8c0c25"/>
<rect x="265.03" y="372.58" width="18.72" height="5.62" fill="#b2182b"/>
<rect x="284.60" y="372.58" width="18.72" height="5.62" fill="#e58268"/>
<rect x="304.17" y="372.58" width="18.72" height="5.62" fill="#c43c3c"/>
<rect x="323.73" y="372.58" width="18.72" height="5.62" fill="#b2182b"/>
<line x1="46.6" x2="49.3" y1="375.37" y2="375.37" stroke="#333" stroke-width="0.55"/>
<text x="44.2" y="377.72" font-size="6.1" text-anchor="end">Sparc</text>
<rect x="49.80" y="381.58" width="18.72" height="5.62" fill="#fddbc7"/>
<rect x="69.37" y="381.58" width="18.72" height="5.62" fill="#92c5de"/>
<rect x="88.93" y="381.58" width="18.72" height="5.62" fill="#92c5de"/>
<rect x="108.50" y="381.58" width="18.72" height="5.62" fill="#327cb8"/>
<rect x="128.07" y="381.58" width="18.72" height="5.62" fill="#4393c3"/>
<rect x="147.63" y="381.58" width="18.72" height="5.62" fill="#8c0c25"/>
<rect x="167.20" y="381.58" width="18.72" height="5.62" fill="#e4eef4"/>
<rect x="186.77" y="381.58" width="18.72" height="5.62" fill="#67001f"/>
<rect x="206.33" y="381.58" width="18.72" height="5.62" fill="#e58268"/>
<rect x="225.90" y="381.58" width="18.72" height="5.62" fill="#8c0c25"/>
<rect x="245.47" y="381.58" width="18.72" height="5.62" fill="#8c0c25"/>
<rect x="265.03" y="381.58" width="18.72" height="5.62" fill="#67001f"/>
<rect x="284.60" y="381.58" width="18.72" height="5.62" fill="#f4a582"/>
<rect x="304.17" y="381.58" width="18.72" height="5.62" fill="#b2182b"/>
<rect x="323.73" y="381.58" width="18.72" height="5.62" fill="#e58268"/>
<line x1="46.6" x2="49.3" y1="384.36" y2="384.36" stroke="#333" stroke-width="0.55"/>
<text x="44.2" y="386.71" font-size="6.1" text-anchor="end">Upp1</text>
<rect x="49.80" y="387.65" width="18.72" height="5.62" fill="#fddbc7"/>
<rect x="69.37" y="387.65" width="18.72" height="5.62" fill="#2166ac"/>
<rect x="88.93" y="387.65" width="18.72" height="5.62" fill="#205290"/>
<rect x="108.50" y="387.65" width="18.72" height="5.62" fill="#2166ac"/>
<rect x="128.07" y="387.65" width="18.72" height="5.62" fill="#327cb8"/>
<rect x="147.63" y="387.65" width="18.72" height="5.62" fill="#e58268"/>
<rect x="167.20" y="387.65" width="18.72" height="5.62" fill="#1f3d75"/>
<rect x="186.77" y="387.65" width="18.72" height="5.62" fill="#67001f"/>
<rect x="206.33" y="387.65" width="18.72" height="5.62" fill="#e58268"/>
<rect x="225.90" y="387.65" width="18.72" height="5.62" fill="#8c0c25"/>
<rect x="245.47" y="387.65" width="18.72" height="5.62" fill="#b2182b"/>
<rect x="265.03" y="387.65" width="18.72" height="5.62" fill="#67001f"/>
<rect x="284.60" y="387.65" width="18.72" height="5.62" fill="#f8c0a4"/>
<rect x="304.17" y="387.65" width="18.72" height="5.62" fill="#b2182b"/>
<rect x="323.73" y="387.65" width="18.72" height="5.62" fill="#f4a582"/>
<line x1="46.6" x2="49.3" y1="390.43" y2="390.43" stroke="#333" stroke-width="0.55"/>
<text x="44.2" y="392.78" font-size="6.1" text-anchor="end" font-style="italic">Spp1</text>
<rect x="49.80" y="393.71" width="18.72" height="5.62" fill="#1f3d75"/>
<rect x="69.37" y="393.71" width="18.72" height="5.62" fill="#4393c3"/>
<rect x="88.93" y="393.71" width="18.72" height="5.62" fill="#e4eef4"/>
<rect x="108.50" y="393.71" width="18.72" height="5.62" fill="#fae9df"/>
<rect x="128.07" y="393.71" width="18.72" height="5.62" fill="#f8c0a4"/>
<rect x="147.63" y="393.71" width="18.72" height="5.62" fill="#8c0c25"/>
<rect x="167.20" y="393.71" width="18.72" height="5.62" fill="#f4a582"/>
<rect x="186.77" y="393.71" width="18.72" height="5.62" fill="#8c0c25"/>
<rect x="206.33" y="393.71" width="18.72" height="5.62" fill="#d6604d"/>
<rect x="225.90" y="393.71" width="18.72" height="5.62" fill="#c43c3c"/>
<rect x="245.47" y="393.71" width="18.72" height="5.62" fill="#c43c3c"/>
<rect x="265.03" y="393.71" width="18.72" height="5.62" fill="#8c0c25"/>
<rect x="284.60" y="393.71" width="18.72" height="5.62" fill="#d6604d"/>
<rect x="304.17" y="393.71" width="18.72" height="5.62" fill="#d6604d"/>
<rect x="323.73" y="393.71" width="18.72" height="5.62" fill="#f8c0a4"/>
<line x1="46.6" x2="49.3" y1="396.50" y2="396.50" stroke="#333" stroke-width="0.55"/>
<text x="44.2" y="398.85" font-size="6.1" text-anchor="end" font-style="italic">Aa467197</text>
<rect x="49.80" y="402.71" width="18.72" height="5.62" fill="#fddbc7"/>
<rect x="69.37" y="402.71" width="18.72" height="5.62" fill="#b2d5e7"/>
<rect x="88.93" y="402.71" width="18.72" height="5.62" fill="#d1e5f0"/>
<rect x="108.50" y="402.71" width="18.72" height="5.62" fill="#e4eef4"/>
<rect x="128.07" y="402.71" width="18.72" height="5.62" fill="#e4eef4"/>
<rect x="147.63" y="402.71" width="18.72" height="5.62" fill="#c43c3c"/>
<rect x="167.20" y="402.71" width="18.72" height="5.62" fill="#e58268"/>
<rect x="186.77" y="402.71" width="18.72" height="5.62" fill="#c43c3c"/>
<rect x="206.33" y="402.71" width="18.72" height="5.62" fill="#67001f"/>
<rect x="225.90" y="402.71" width="18.72" height="5.62" fill="#c43c3c"/>
<rect x="245.47" y="402.71" width="18.72" height="5.62" fill="#d6604d"/>
<rect x="265.03" y="402.71" width="18.72" height="5.62" fill="#e58268"/>
<rect x="284.60" y="402.71" width="18.72" height="5.62" fill="#67001f"/>
<rect x="304.17" y="402.71" width="18.72" height="5.62" fill="#b2182b"/>
<rect x="323.73" y="402.71" width="18.72" height="5.62" fill="#e58268"/>
<line x1="46.6" x2="49.3" y1="405.49" y2="405.49" stroke="#333" stroke-width="0.55"/>
<text x="44.2" y="407.84" font-size="6.1" text-anchor="end">Lgals1</text>
<rect x="49.80" y="408.78" width="18.72" height="5.62" fill="#f4a582"/>
<rect x="69.37" y="408.78" width="18.72" height="5.62" fill="#d1e5f0"/>
<rect x="88.93" y="408.78" width="18.72" height="5.62" fill="#b2d5e7"/>
<rect x="108.50" y="408.78" width="18.72" height="5.62" fill="#e4eef4"/>
<rect x="128.07" y="408.78" width="18.72" height="5.62" fill="#d1e5f0"/>
<rect x="147.63" y="408.78" width="18.72" height="5.62" fill="#b2182b"/>
<rect x="167.20" y="408.78" width="18.72" height="5.62" fill="#e58268"/>
<rect x="186.77" y="408.78" width="18.72" height="5.62" fill="#b2182b"/>
<rect x="206.33" y="408.78" width="18.72" height="5.62" fill="#8c0c25"/>
<rect x="225.90" y="408.78" width="18.72" height="5.62" fill="#c43c3c"/>
<rect x="245.47" y="408.78" width="18.72" height="5.62" fill="#c43c3c"/>
<rect x="265.03" y="408.78" width="18.72" height="5.62" fill="#e58268"/>
<rect x="284.60" y="408.78" width="18.72" height="5.62" fill="#8c0c25"/>
<rect x="304.17" y="408.78" width="18.72" height="5.62" fill="#8c0c25"/>
<rect x="323.73" y="408.78" width="18.72" height="5.62" fill="#e58268"/>
<line x1="46.6" x2="49.3" y1="411.56" y2="411.56" stroke="#333" stroke-width="0.55"/>
<text x="44.2" y="413.91" font-size="6.1" text-anchor="end">Tmsb4x</text>
<rect x="49.80" y="414.84" width="18.72" height="5.62" fill="#fddbc7"/>
<rect x="69.37" y="414.84" width="18.72" height="5.62" fill="#6aacd0"/>
<rect x="88.93" y="414.84" width="18.72" height="5.62" fill="#b2d5e7"/>
<rect x="108.50" y="414.84" width="18.72" height="5.62" fill="#f7f7f7"/>
<rect x="128.07" y="414.84" width="18.72" height="5.62" fill="#d6604d"/>
<rect x="147.63" y="414.84" width="18.72" height="5.62" fill="#b2182b"/>
<rect x="167.20" y="414.84" width="18.72" height="5.62" fill="#8c0c25"/>
<rect x="186.77" y="414.84" width="18.72" height="5.62" fill="#c43c3c"/>
<rect x="206.33" y="414.84" width="18.72" height="5.62" fill="#67001f"/>
<rect x="225.90" y="414.84" width="18.72" height="5.62" fill="#e58268"/>
<rect x="245.47" y="414.84" width="18.72" height="5.62" fill="#d6604d"/>
<rect x="265.03" y="414.84" width="18.72" height="5.62" fill="#e58268"/>
<rect x="284.60" y="414.84" width="18.72" height="5.62" fill="#8c0c25"/>
<rect x="304.17" y="414.84" width="18.72" height="5.62" fill="#d6604d"/>
<rect x="323.73" y="414.84" width="18.72" height="5.62" fill="#e58268"/>
<line x1="46.6" x2="49.3" y1="417.63" y2="417.63" stroke="#333" stroke-width="0.55"/>
<text x="44.2" y="419.98" font-size="6.1" text-anchor="end" font-style="italic">Krt18</text>
<rect x="49.80" y="423.84" width="18.72" height="5.62" fill="#fddbc7"/>
<rect x="69.37" y="423.84" width="18.72" height="5.62" fill="#327cb8"/>
<rect x="88.93" y="423.84" width="18.72" height="5.62" fill="#b2d5e7"/>
<rect x="108.50" y="423.84" width="18.72" height="5.62" fill="#327cb8"/>
<rect x="128.07" y="423.84" width="18.72" height="5.62" fill="#2166ac"/>
<rect x="147.63" y="423.84" width="18.72" height="5.62" fill="#d6604d"/>
<rect x="167.20" y="423.84" width="18.72" height="5.62" fill="#e4eef4"/>
<rect x="186.77" y="423.84" width="18.72" height="5.62" fill="#b2182b"/>
<rect x="206.33" y="423.84" width="18.72" height="5.62" fill="#e58268"/>
<rect x="225.90" y="423.84" width="18.72" height="5.62" fill="#8c0c25"/>
<rect x="245.47" y="423.84" width="18.72" height="5.62" fill="#d6604d"/>
<rect x="265.03" y="423.84" width="18.72" height="5.62" fill="#b2182b"/>
<rect x="284.60" y="423.84" width="18.72" height="5.62" fill="#e58268"/>
<rect x="304.17" y="423.84" width="18.72" height="5.62" fill="#67001f"/>
<rect x="323.73" y="423.84" width="18.72" height="5.62" fill="#f4a582"/>
<line x1="46.6" x2="49.3" y1="426.62" y2="426.62" stroke="#333" stroke-width="0.55"/>
<text x="44.2" y="428.97" font-size="6.1" text-anchor="end" font-style="italic">Slc7a3</text>
<rect x="49.80" y="429.91" width="18.72" height="5.62" fill="#fddbc7"/>
<rect x="69.37" y="429.91" width="18.72" height="5.62" fill="#d1e5f0"/>
<rect x="88.93" y="429.91" width="18.72" height="5.62" fill="#f7f7f7"/>
<rect x="108.50" y="429.91" width="18.72" height="5.62" fill="#fae9df"/>
<rect x="128.07" y="429.91" width="18.72" height="5.62" fill="#fae9df"/>
<rect x="147.63" y="429.91" width="18.72" height="5.62" fill="#c43c3c"/>
<rect x="167.20" y="429.91" width="18.72" height="5.62" fill="#fddbc7"/>
<rect x="186.77" y="429.91" width="18.72" height="5.62" fill="#c43c3c"/>
<rect x="206.33" y="429.91" width="18.72" height="5.62" fill="#f4a582"/>
<rect x="225.90" y="429.91" width="18.72" height="5.62" fill="#c43c3c"/>
<rect x="245.47" y="429.91" width="18.72" height="5.62" fill="#d6604d"/>
<rect x="265.03" y="429.91" width="18.72" height="5.62" fill="#c43c3c"/>
<rect x="284.60" y="429.91" width="18.72" height="5.62" fill="#d6604d"/>
<rect x="304.17" y="429.91" width="18.72" height="5.62" fill="#8c0c25"/>
<rect x="323.73" y="429.91" width="18.72" height="5.62" fill="#8c0c25"/>
<line x1="46.6" x2="49.3" y1="432.69" y2="432.69" stroke="#333" stroke-width="0.55"/>
<text x="44.2" y="435.04" font-size="6.1" text-anchor="end" font-style="italic">Ldha</text>
<rect x="49.80" y="435.97" width="18.72" height="5.62" fill="#fddbc7"/>
<rect x="69.37" y="435.97" width="18.72" height="5.62" fill="#6aacd0"/>
<rect x="88.93" y="435.97" width="18.72" height="5.62" fill="#fae9df"/>
<rect x="108.50" y="435.97" width="18.72" height="5.62" fill="#f8c0a4"/>
<rect x="128.07" y="435.97" width="18.72" height="5.62" fill="#d6604d"/>
<rect x="147.63" y="435.97" width="18.72" height="5.62" fill="#8c0c25"/>
<rect x="167.20" y="435.97" width="18.72" height="5.62" fill="#d6604d"/>
<rect x="186.77" y="435.97" width="18.72" height="5.62" fill="#b2182b"/>
<rect x="206.33" y="435.97" width="18.72" height="5.62" fill="#d6604d"/>
<rect x="225.90" y="435.97" width="18.72" height="5.62" fill="#b2182b"/>
<rect x="245.47" y="435.97" width="18.72" height="5.62" fill="#d6604d"/>
<rect x="265.03" y="435.97" width="18.72" height="5.62" fill="#c43c3c"/>
<rect x="284.60" y="435.97" width="18.72" height="5.62" fill="#e58268"/>
<rect x="304.17" y="435.97" width="18.72" height="5.62" fill="#b2182b"/>
<rect x="323.73" y="435.97" width="18.72" height="5.62" fill="#f4a582"/>
<line x1="46.6" x2="49.3" y1="438.76" y2="438.76" stroke="#333" stroke-width="0.55"/>
<text x="44.2" y="441.11" font-size="6.1" text-anchor="end" font-style="italic">Mylpf</text>
<rect x="49.80" y="444.97" width="18.72" height="5.62" fill="#f7f7f7"/>
<rect x="69.37" y="444.97" width="18.72" height="5.62" fill="#92c5de"/>
<rect x="88.93" y="444.97" width="18.72" height="5.62" fill="#f7f7f7"/>
<rect x="108.50" y="444.97" width="18.72" height="5.62" fill="#e4eef4"/>
<rect x="128.07" y="444.97" width="18.72" height="5.62" fill="#fae9df"/>
<rect x="147.63" y="444.97" width="18.72" height="5.62" fill="#d6604d"/>
<rect x="167.20" y="444.97" width="18.72" height="5.62" fill="#f4a582"/>
<rect x="186.77" y="444.97" width="18.72" height="5.62" fill="#d6604d"/>
<rect x="206.33" y="444.97" width="18.72" height="5.62" fill="#e58268"/>
<rect x="225.90" y="444.97" width="18.72" height="5.62" fill="#e58268"/>
<rect x="245.47" y="444.97" width="18.72" height="5.62" fill="#c43c3c"/>
<rect x="265.03" y="444.97" width="18.72" height="5.62" fill="#c43c3c"/>
<rect x="284.60" y="444.97" width="18.72" height="5.62" fill="#e58268"/>
<rect x="304.17" y="444.97" width="18.72" height="5.62" fill="#d6604d"/>
<rect x="323.73" y="444.97" width="18.72" height="5.62" fill="#67001f"/>
<line x1="46.6" x2="49.3" y1="447.75" y2="447.75" stroke="#333" stroke-width="0.55"/>
<text x="44.2" y="450.10" font-size="6.1" text-anchor="end">Amn</text>
<rect x="49.80" y="451.04" width="18.72" height="5.62" fill="#fddbc7"/>
<rect x="69.37" y="451.04" width="18.72" height="5.62" fill="#205290"/>
<rect x="88.93" y="451.04" width="18.72" height="5.62" fill="#2166ac"/>
<rect x="108.50" y="451.04" width="18.72" height="5.62" fill="#4393c3"/>
<rect x="128.07" y="451.04" width="18.72" height="5.62" fill="#1f3d75"/>
<rect x="147.63" y="451.04" width="18.72" height="5.62" fill="#e58268"/>
<rect x="167.20" y="451.04" width="18.72" height="5.62" fill="#327cb8"/>
<rect x="186.77" y="451.04" width="18.72" height="5.62" fill="#c43c3c"/>
<rect x="206.33" y="451.04" width="18.72" height="5.62" fill="#f4a582"/>
<rect x="225.90" y="451.04" width="18.72" height="5.62" fill="#e58268"/>
<rect x="245.47" y="451.04" width="18.72" height="5.62" fill="#8c0c25"/>
<rect x="265.03" y="451.04" width="18.72" height="5.62" fill="#b2182b"/>
<rect x="284.60" y="451.04" width="18.72" height="5.62" fill="#e58268"/>
<rect x="304.17" y="451.04" width="18.72" height="5.62" fill="#c43c3c"/>
<rect x="323.73" y="451.04" width="18.72" height="5.62" fill="#8c0c25"/>
<line x1="46.6" x2="49.3" y1="453.82" y2="453.82" stroke="#333" stroke-width="0.55"/>
<text x="44.2" y="456.17" font-size="6.1" text-anchor="end" font-style="italic">Serpinh1</text>
<rect x="49.80" y="457.10" width="18.72" height="5.62" fill="#d6604d"/>
<rect x="69.37" y="457.10" width="18.72" height="5.62" fill="#fddbc7"/>
<rect x="88.93" y="457.10" width="18.72" height="5.62" fill="#fddbc7"/>
<rect x="108.50" y="457.10" width="18.72" height="5.62" fill="#d1e5f0"/>
<rect x="128.07" y="457.10" width="18.72" height="5.62" fill="#b2d5e7"/>
<rect x="147.63" y="457.10" width="18.72" height="5.62" fill="#d6604d"/>
<rect x="167.20" y="457.10" width="18.72" height="5.62" fill="#fae9df"/>
<rect x="186.77" y="457.10" width="18.72" height="5.62" fill="#d6604d"/>
<rect x="206.33" y="457.10" width="18.72" height="5.62" fill="#f8c0a4"/>
<rect x="225.90" y="457.10" width="18.72" height="5.62" fill="#e58268"/>
<rect x="245.47" y="457.10" width="18.72" height="5.62" fill="#c43c3c"/>
<rect x="265.03" y="457.10" width="18.72" height="5.62" fill="#c43c3c"/>
<rect x="284.60" y="457.10" width="18.72" height="5.62" fill="#e58268"/>
<rect x="304.17" y="457.10" width="18.72" height="5.62" fill="#d6604d"/>
<rect x="323.73" y="457.10" width="18.72" height="5.62" fill="#67001f"/>
<line x1="46.6" x2="49.3" y1="459.89" y2="459.89" stroke="#333" stroke-width="0.55"/>
<text x="44.2" y="462.24" font-size="6.1" text-anchor="end">Srgn</text>
<rect x="343.4" y="149.10" width="14.4" height="17.90" fill="#7083ad"/>
<text x="350.6" y="161.05" font-size="8.2" text-anchor="middle" style="fill:#fff" fill-opacity="0.88">1</text>
<rect x="343.4" y="170.23" width="14.4" height="17.90" fill="#96c23c"/>
<text x="350.6" y="182.18" font-size="8.2" text-anchor="middle" style="fill:#fff" fill-opacity="0.88">2</text>
<rect x="343.4" y="191.36" width="14.4" height="17.90" fill="#56b14d"/>
<text x="350.6" y="203.31" font-size="8.2" text-anchor="middle" style="fill:#fff" fill-opacity="0.88">3</text>
<rect x="343.4" y="212.49" width="14.4" height="17.90" fill="#0a8a3c"/>
<text x="350.6" y="224.44" font-size="8.2" text-anchor="middle" style="fill:#fff" fill-opacity="0.88">4</text>
<rect x="343.4" y="233.62" width="14.4" height="17.90" fill="#5872bd"/>
<text x="350.6" y="245.57" font-size="8.2" text-anchor="middle" style="fill:#fff" fill-opacity="0.88">5</text>
<rect x="343.4" y="254.75" width="14.4" height="17.90" fill="#f2d680"/>
<text x="350.6" y="266.70" font-size="8.2" text-anchor="middle" style="fill:#fff" fill-opacity="0.88">6</text>
<rect x="343.4" y="275.88" width="14.4" height="17.90" fill="#4383c0"/>
<text x="350.6" y="287.83" font-size="8.2" text-anchor="middle" style="fill:#fff" fill-opacity="0.88">7</text>
<rect x="343.4" y="297.01" width="14.4" height="17.90" fill="#f2c451"/>
<text x="350.6" y="308.96" font-size="8.2" text-anchor="middle" style="fill:#fff" fill-opacity="0.88">8</text>
<rect x="343.4" y="318.14" width="14.4" height="17.90" fill="#4f97d6"/>
<text x="350.6" y="330.09" font-size="8.2" text-anchor="middle" style="fill:#fff" fill-opacity="0.88">9</text>
<rect x="343.4" y="339.27" width="14.4" height="17.90" fill="#b97fb8"/>
<text x="350.6" y="351.22" font-size="8.2" text-anchor="middle" style="fill:#fff" fill-opacity="0.88">10</text>
<rect x="343.4" y="360.40" width="14.4" height="17.90" fill="#d9787c"/>
<text x="350.6" y="372.35" font-size="8.2" text-anchor="middle" style="fill:#fff" fill-opacity="0.88">11</text>
<rect x="343.4" y="381.53" width="14.4" height="17.90" fill="#f3b730"/>
<text x="350.6" y="393.48" font-size="8.2" text-anchor="middle" style="fill:#fff" fill-opacity="0.88">12</text>
<rect x="343.4" y="402.66" width="14.4" height="17.90" fill="#4a8ed0"/>
<text x="350.6" y="414.61" font-size="8.2" text-anchor="middle" style="fill:#fff" fill-opacity="0.88">13</text>
<rect x="343.4" y="423.79" width="14.4" height="17.90" fill="#a0529a"/>
<text x="350.6" y="435.74" font-size="8.2" text-anchor="middle" style="fill:#fff" fill-opacity="0.88">14</text>
<rect x="343.4" y="444.92" width="14.4" height="17.90" fill="#d5545c"/>
<text x="350.6" y="456.87" font-size="8.2" text-anchor="middle" style="fill:#fff" fill-opacity="0.88">15</text>
<line x1="59.58" x2="59.58" y1="463.7" y2="466.5" stroke="#333" stroke-width="0.5"/>
<text transform="translate(63.18,471.4) rotate(-45)" font-size="6.1" text-anchor="end">Zygote</text>
<line x1="79.15" x2="79.15" y1="463.7" y2="466.5" stroke="#333" stroke-width="0.5"/>
<text transform="translate(82.75,471.4) rotate(-45)" font-size="6.1" text-anchor="end">2C</text>
<line x1="98.72" x2="98.72" y1="463.7" y2="466.5" stroke="#333" stroke-width="0.5"/>
<text transform="translate(102.32,471.4) rotate(-45)" font-size="6.1" text-anchor="end">4C</text>
<line x1="118.28" x2="118.28" y1="463.7" y2="466.5" stroke="#333" stroke-width="0.5"/>
<text transform="translate(121.88,471.4) rotate(-45)" font-size="6.1" text-anchor="end">8C</text>
<line x1="137.85" x2="137.85" y1="463.7" y2="466.5" stroke="#333" stroke-width="0.5"/>
<text transform="translate(141.45,471.4) rotate(-45)" font-size="6.1" text-anchor="end">16C</text>
<line x1="157.42" x2="157.42" y1="463.7" y2="466.5" stroke="#333" stroke-width="0.5"/>
<text transform="translate(161.02,471.4) rotate(-45)" font-size="6.1" text-anchor="end">E3.25-ICM</text>
<line x1="176.98" x2="176.98" y1="463.7" y2="466.5" stroke="#333" stroke-width="0.5"/>
<text transform="translate(180.58,471.4) rotate(-45)" font-size="6.1" text-anchor="end">E3.25-TE</text>
<line x1="196.55" x2="196.55" y1="463.7" y2="466.5" stroke="#333" stroke-width="0.5"/>
<text transform="translate(200.15,471.4) rotate(-45)" font-size="6.1" text-anchor="end">E3.5-ICM</text>
<line x1="216.12" x2="216.12" y1="463.7" y2="466.5" stroke="#333" stroke-width="0.5"/>
<text transform="translate(219.72,471.4) rotate(-45)" font-size="6.1" text-anchor="end">E3.5-TE</text>
<line x1="235.68" x2="235.68" y1="463.7" y2="466.5" stroke="#333" stroke-width="0.5"/>
<text transform="translate(239.28,471.4) rotate(-45)" font-size="6.1" text-anchor="end">E3.5-EPI</text>
<line x1="255.25" x2="255.25" y1="463.7" y2="466.5" stroke="#333" stroke-width="0.5"/>
<text transform="translate(258.85,471.4) rotate(-45)" font-size="6.1" text-anchor="end">E3.5-PrE</text>
<line x1="274.82" x2="274.82" y1="463.7" y2="466.5" stroke="#333" stroke-width="0.5"/>
<text transform="translate(278.42,471.4) rotate(-45)" font-size="6.1" text-anchor="end">E3.75-ICM</text>
<line x1="294.38" x2="294.38" y1="463.7" y2="466.5" stroke="#333" stroke-width="0.5"/>
<text transform="translate(297.98,471.4) rotate(-45)" font-size="6.1" text-anchor="end">E4.5-TE</text>
<line x1="313.95" x2="313.95" y1="463.7" y2="466.5" stroke="#333" stroke-width="0.5"/>
<text transform="translate(317.55,471.4) rotate(-45)" font-size="6.1" text-anchor="end">E4.5-EPI</text>
<line x1="333.52" x2="333.52" y1="463.7" y2="466.5" stroke="#333" stroke-width="0.5"/>
<text transform="translate(337.12,471.4) rotate(-45)" font-size="6.1" text-anchor="end">E4.5-PrE</text>
<rect x="407.10" y="149.60" width="20.59" height="5.82" fill="#67001f"/>
<rect x="428.54" y="149.60" width="20.59" height="5.82" fill="#8c0c25"/>
<rect x="449.98" y="149.60" width="20.59" height="5.82" fill="#f4a582"/>
<rect x="471.42" y="149.60" width="20.59" height="5.82" fill="#fddbc7"/>
<rect x="492.86" y="149.60" width="20.59" height="5.82" fill="#fddbc7"/>
<rect x="514.30" y="149.60" width="20.59" height="5.82" fill="#4393c3"/>
<rect x="535.74" y="149.60" width="20.59" height="5.82" fill="#6aacd0"/>
<rect x="557.17" y="149.60" width="20.59" height="5.82" fill="#2166ac"/>
<rect x="578.61" y="149.60" width="20.59" height="5.82" fill="#fddbc7"/>
<rect x="600.05" y="149.60" width="20.59" height="5.82" fill="#92c5de"/>
<rect x="621.49" y="149.60" width="20.59" height="5.82" fill="#327cb8"/>
<rect x="642.93" y="149.60" width="20.59" height="5.82" fill="#fae9df"/>
<rect x="664.37" y="149.60" width="20.59" height="5.82" fill="#205290"/>
<rect x="685.81" y="149.60" width="20.59" height="5.82" fill="#fddbc7"/>
<line x1="403.9" x2="406.6" y1="152.48" y2="152.48" stroke="#333" stroke-width="0.55"/>
<text x="402.0" y="154.83" font-size="6.1" text-anchor="end">WEE2</text>
<rect x="407.10" y="155.87" width="20.59" height="5.82" fill="#67001f"/>
<rect x="428.54" y="155.87" width="20.59" height="5.82" fill="#b2182b"/>
<rect x="449.98" y="155.87" width="20.59" height="5.82" fill="#f8c0a4"/>
<rect x="471.42" y="155.87" width="20.59" height="5.82" fill="#fddbc7"/>
<rect x="492.86" y="155.87" width="20.59" height="5.82" fill="#f8c0a4"/>
<rect x="514.30" y="155.87" width="20.59" height="5.82" fill="#92c5de"/>
<rect x="535.74" y="155.87" width="20.59" height="5.82" fill="#92c5de"/>
<rect x="557.17" y="155.87" width="20.59" height="5.82" fill="#1f3d75"/>
<rect x="578.61" y="155.87" width="20.59" height="5.82" fill="#f7f7f7"/>
<rect x="600.05" y="155.87" width="20.59" height="5.82" fill="#92c5de"/>
<rect x="621.49" y="155.87" width="20.59" height="5.82" fill="#6aacd0"/>
<rect x="642.93" y="155.87" width="20.59" height="5.82" fill="#fddbc7"/>
<rect x="664.37" y="155.87" width="20.59" height="5.82" fill="#205290"/>
<rect x="685.81" y="155.87" width="20.59" height="5.82" fill="#fddbc7"/>
<line x1="403.9" x2="406.6" y1="158.75" y2="158.75" stroke="#333" stroke-width="0.55"/>
<text x="402.0" y="161.10" font-size="6.1" text-anchor="end">TUBB8</text>
<rect x="407.10" y="162.13" width="20.59" height="5.82" fill="#67001f"/>
<rect x="428.54" y="162.13" width="20.59" height="5.82" fill="#8c0c25"/>
<rect x="449.98" y="162.13" width="20.59" height="5.82" fill="#f8c0a4"/>
<rect x="471.42" y="162.13" width="20.59" height="5.82" fill="#fddbc7"/>
<rect x="492.86" y="162.13" width="20.59" height="5.82" fill="#f4a582"/>
<rect x="514.30" y="162.13" width="20.59" height="5.82" fill="#b2d5e7"/>
<rect x="535.74" y="162.13" width="20.59" height="5.82" fill="#92c5de"/>
<rect x="557.17" y="162.13" width="20.59" height="5.82" fill="#327cb8"/>
<rect x="578.61" y="162.13" width="20.59" height="5.82" fill="#f7f7f7"/>
<rect x="600.05" y="162.13" width="20.59" height="5.82" fill="#d1e5f0"/>
<rect x="621.49" y="162.13" width="20.59" height="5.82" fill="#b2d5e7"/>
<rect x="642.93" y="162.13" width="20.59" height="5.82" fill="#2166ac"/>
<rect x="664.37" y="162.13" width="20.59" height="5.82" fill="#6aacd0"/>
<rect x="685.81" y="162.13" width="20.59" height="5.82" fill="#f8c0a4"/>
<line x1="403.9" x2="406.6" y1="165.02" y2="165.02" stroke="#333" stroke-width="0.55"/>
<text x="402.0" y="167.37" font-size="6.1" text-anchor="end">NLRP4</text>
<rect x="407.10" y="171.78" width="20.59" height="5.82" fill="#f8c0a4"/>
<rect x="428.54" y="171.78" width="20.59" height="5.82" fill="#67001f"/>
<rect x="449.98" y="171.78" width="20.59" height="5.82" fill="#f4a582"/>
<rect x="471.42" y="171.78" width="20.59" height="5.82" fill="#f8c0a4"/>
<rect x="492.86" y="171.78" width="20.59" height="5.82" fill="#f4a582"/>
<rect x="514.30" y="171.78" width="20.59" height="5.82" fill="#f7f7f7"/>
<rect x="535.74" y="171.78" width="20.59" height="5.82" fill="#f7f7f7"/>
<rect x="557.17" y="171.78" width="20.59" height="5.82" fill="#fddbc7"/>
<rect x="578.61" y="171.78" width="20.59" height="5.82" fill="#b2d5e7"/>
<rect x="600.05" y="171.78" width="20.59" height="5.82" fill="#92c5de"/>
<rect x="621.49" y="171.78" width="20.59" height="5.82" fill="#b2d5e7"/>
<rect x="642.93" y="171.78" width="20.59" height="5.82" fill="#1f3d75"/>
<rect x="664.37" y="171.78" width="20.59" height="5.82" fill="#327cb8"/>
<rect x="685.81" y="171.78" width="20.59" height="5.82" fill="#f4a582"/>
<line x1="403.9" x2="406.6" y1="174.66" y2="174.66" stroke="#333" stroke-width="0.55"/>
<text x="402.0" y="177.01" font-size="6.1" text-anchor="end">H3Y1</text>
<rect x="407.10" y="178.05" width="20.59" height="5.82" fill="#b2182b"/>
<rect x="428.54" y="178.05" width="20.59" height="5.82" fill="#8c0c25"/>
<rect x="449.98" y="178.05" width="20.59" height="5.82" fill="#e58268"/>
<rect x="471.42" y="178.05" width="20.59" height="5.82" fill="#f8c0a4"/>
<rect x="492.86" y="178.05" width="20.59" height="5.82" fill="#e4eef4"/>
<rect x="514.30" y="178.05" width="20.59" height="5.82" fill="#92c5de"/>
<rect x="535.74" y="178.05" width="20.59" height="5.82" fill="#92c5de"/>
<rect x="557.17" y="178.05" width="20.59" height="5.82" fill="#2166ac"/>
<rect x="578.61" y="178.05" width="20.59" height="5.82" fill="#fddbc7"/>
<rect x="600.05" y="178.05" width="20.59" height="5.82" fill="#92c5de"/>
<rect x="621.49" y="178.05" width="20.59" height="5.82" fill="#327cb8"/>
<rect x="642.93" y="178.05" width="20.59" height="5.82" fill="#d1e5f0"/>
<rect x="664.37" y="178.05" width="20.59" height="5.82" fill="#6aacd0"/>
<rect x="685.81" y="178.05" width="20.59" height="5.82" fill="#f7f7f7"/>
<line x1="403.9" x2="406.6" y1="180.93" y2="180.93" stroke="#333" stroke-width="0.55"/>
<text x="402.0" y="183.28" font-size="6.1" text-anchor="end">ACTL8</text>
<rect x="407.10" y="184.31" width="20.59" height="5.82" fill="#8c0c25"/>
<rect x="428.54" y="184.31" width="20.59" height="5.82" fill="#8c0c25"/>
<rect x="449.98" y="184.31" width="20.59" height="5.82" fill="#f4a582"/>
<rect x="471.42" y="184.31" width="20.59" height="5.82" fill="#f7f7f7"/>
<rect x="492.86" y="184.31" width="20.59" height="5.82" fill="#fae9df"/>
<rect x="514.30" y="184.31" width="20.59" height="5.82" fill="#6aacd0"/>
<rect x="535.74" y="184.31" width="20.59" height="5.82" fill="#1f3d75"/>
<rect x="557.17" y="184.31" width="20.59" height="5.82" fill="#327cb8"/>
<rect x="578.61" y="184.31" width="20.59" height="5.82" fill="#e4eef4"/>
<rect x="600.05" y="184.31" width="20.59" height="5.82" fill="#92c5de"/>
<rect x="621.49" y="184.31" width="20.59" height="5.82" fill="#2166ac"/>
<rect x="642.93" y="184.31" width="20.59" height="5.82" fill="#92c5de"/>
<rect x="664.37" y="184.31" width="20.59" height="5.82" fill="#327cb8"/>
<rect x="685.81" y="184.31" width="20.59" height="5.82" fill="#1f3d75"/>
<line x1="403.9" x2="406.6" y1="187.20" y2="187.20" stroke="#333" stroke-width="0.55"/>
<text x="402.0" y="189.55" font-size="6.1" text-anchor="end">OOSP2</text>
<rect x="407.10" y="193.96" width="20.59" height="5.82" fill="#fddbc7"/>
<rect x="428.54" y="193.96" width="20.59" height="5.82" fill="#8c0c25"/>
<rect x="449.98" y="193.96" width="20.59" height="5.82" fill="#8c0c25"/>
<rect x="471.42" y="193.96" width="20.59" height="5.82" fill="#6aacd0"/>
<rect x="492.86" y="193.96" width="20.59" height="5.82" fill="#1f3d75"/>
<rect x="514.30" y="193.96" width="20.59" height="5.82" fill="#1f3d75"/>
<rect x="535.74" y="193.96" width="20.59" height="5.82" fill="#205290"/>
<rect x="557.17" y="193.96" width="20.59" height="5.82" fill="#4393c3"/>
<rect x="578.61" y="193.96" width="20.59" height="5.82" fill="#6aacd0"/>
<rect x="600.05" y="193.96" width="20.59" height="5.82" fill="#1f3d75"/>
<rect x="621.49" y="193.96" width="20.59" height="5.82" fill="#1f3d75"/>
<rect x="642.93" y="193.96" width="20.59" height="5.82" fill="#1f3d75"/>
<rect x="664.37" y="193.96" width="20.59" height="5.82" fill="#1f3d75"/>
<rect x="685.81" y="193.96" width="20.59" height="5.82" fill="#fddbc7"/>
<line x1="403.9" x2="406.6" y1="196.84" y2="196.84" stroke="#333" stroke-width="0.55"/>
<text x="402.0" y="199.19" font-size="6.1" text-anchor="end">DUXA</text>
<rect x="407.10" y="200.23" width="20.59" height="5.82" fill="#d1e5f0"/>
<rect x="428.54" y="200.23" width="20.59" height="5.82" fill="#d6604d"/>
<rect x="449.98" y="200.23" width="20.59" height="5.82" fill="#8c0c25"/>
<rect x="471.42" y="200.23" width="20.59" height="5.82" fill="#b2182b"/>
<rect x="492.86" y="200.23" width="20.59" height="5.82" fill="#d6604d"/>
<rect x="514.30" y="200.23" width="20.59" height="5.82" fill="#c43c3c"/>
<rect x="535.74" y="200.23" width="20.59" height="5.82" fill="#f4a582"/>
<rect x="557.17" y="200.23" width="20.59" height="5.82" fill="#6aacd0"/>
<rect x="578.61" y="200.23" width="20.59" height="5.82" fill="#d6604d"/>
<rect x="600.05" y="200.23" width="20.59" height="5.82" fill="#fddbc7"/>
<rect x="621.49" y="200.23" width="20.59" height="5.82" fill="#d1e5f0"/>
<rect x="642.93" y="200.23" width="20.59" height="5.82" fill="#f7f7f7"/>
<rect x="664.37" y="200.23" width="20.59" height="5.82" fill="#4393c3"/>
<rect x="685.81" y="200.23" width="20.59" height="5.82" fill="#f7f7f7"/>
<line x1="403.9" x2="406.6" y1="203.11" y2="203.11" stroke="#333" stroke-width="0.55"/>
<text x="402.0" y="205.46" font-size="6.1" text-anchor="end">FAM151A</text>
<rect x="407.10" y="206.49" width="20.59" height="5.82" fill="#f7f7f7"/>
<rect x="428.54" y="206.49" width="20.59" height="5.82" fill="#b2182b"/>
<rect x="449.98" y="206.49" width="20.59" height="5.82" fill="#67001f"/>
<rect x="471.42" y="206.49" width="20.59" height="5.82" fill="#f8c0a4"/>
<rect x="492.86" y="206.49" width="20.59" height="5.82" fill="#e58268"/>
<rect x="514.30" y="206.49" width="20.59" height="5.82" fill="#f8c0a4"/>
<rect x="535.74" y="206.49" width="20.59" height="5.82" fill="#fddbc7"/>
<rect x="557.17" y="206.49" width="20.59" height="5.82" fill="#e4eef4"/>
<rect x="578.61" y="206.49" width="20.59" height="5.82" fill="#fddbc7"/>
<rect x="600.05" y="206.49" width="20.59" height="5.82" fill="#f8c0a4"/>
<rect x="621.49" y="206.49" width="20.59" height="5.82" fill="#f4a582"/>
<rect x="642.93" y="206.49" width="20.59" height="5.82" fill="#f8c0a4"/>
<rect x="664.37" y="206.49" width="20.59" height="5.82" fill="#fddbc7"/>
<rect x="685.81" y="206.49" width="20.59" height="5.82" fill="#d6604d"/>
<line x1="403.9" x2="406.6" y1="209.38" y2="209.38" stroke="#333" stroke-width="0.55"/>
<text x="402.0" y="211.73" font-size="6.1" text-anchor="end">BIK</text>
<rect x="407.10" y="216.14" width="20.59" height="5.82" fill="#6aacd0"/>
<rect x="428.54" y="216.14" width="20.59" height="5.82" fill="#f7f7f7"/>
<rect x="449.98" y="216.14" width="20.59" height="5.82" fill="#d1e5f0"/>
<rect x="471.42" y="216.14" width="20.59" height="5.82" fill="#e58268"/>
<rect x="492.86" y="216.14" width="20.59" height="5.82" fill="#c43c3c"/>
<rect x="514.30" y="216.14" width="20.59" height="5.82" fill="#f8c0a4"/>
<rect x="535.74" y="216.14" width="20.59" height="5.82" fill="#f4a582"/>
<rect x="557.17" y="216.14" width="20.59" height="5.82" fill="#f7f7f7"/>
<rect x="578.61" y="216.14" width="20.59" height="5.82" fill="#d6604d"/>
<rect x="600.05" y="216.14" width="20.59" height="5.82" fill="#b2182b"/>
<rect x="621.49" y="216.14" width="20.59" height="5.82" fill="#b2182b"/>
<rect x="642.93" y="216.14" width="20.59" height="5.82" fill="#b2182b"/>
<rect x="664.37" y="216.14" width="20.59" height="5.82" fill="#d6604d"/>
<rect x="685.81" y="216.14" width="20.59" height="5.82" fill="#8c0c25"/>
<line x1="403.9" x2="406.6" y1="219.02" y2="219.02" stroke="#333" stroke-width="0.55"/>
<text x="402.0" y="221.37" font-size="6.1" text-anchor="end">KRT18</text>
<rect x="407.10" y="222.41" width="20.59" height="5.82" fill="#92c5de"/>
<rect x="428.54" y="222.41" width="20.59" height="5.82" fill="#f8c0a4"/>
<rect x="449.98" y="222.41" width="20.59" height="5.82" fill="#f4a582"/>
<rect x="471.42" y="222.41" width="20.59" height="5.82" fill="#67001f"/>
<rect x="492.86" y="222.41" width="20.59" height="5.82" fill="#b2182b"/>
<rect x="514.30" y="222.41" width="20.59" height="5.82" fill="#c43c3c"/>
<rect x="535.74" y="222.41" width="20.59" height="5.82" fill="#d6604d"/>
<rect x="557.17" y="222.41" width="20.59" height="5.82" fill="#fddbc7"/>
<rect x="578.61" y="222.41" width="20.59" height="5.82" fill="#b2182b"/>
<rect x="600.05" y="222.41" width="20.59" height="5.82" fill="#d6604d"/>
<rect x="621.49" y="222.41" width="20.59" height="5.82" fill="#f4a582"/>
<rect x="642.93" y="222.41" width="20.59" height="5.82" fill="#f7f7f7"/>
<rect x="664.37" y="222.41" width="20.59" height="5.82" fill="#b2d5e7"/>
<rect x="685.81" y="222.41" width="20.59" height="5.82" fill="#d6604d"/>
<line x1="403.9" x2="406.6" y1="225.29" y2="225.29" stroke="#333" stroke-width="0.55"/>
<text x="402.0" y="227.64" font-size="6.1" text-anchor="end">TUBB4A</text>
<rect x="407.10" y="228.67" width="20.59" height="5.82" fill="#d1e5f0"/>
<rect x="428.54" y="228.67" width="20.59" height="5.82" fill="#e58268"/>
<rect x="449.98" y="228.67" width="20.59" height="5.82" fill="#d1e5f0"/>
<rect x="471.42" y="228.67" width="20.59" height="5.82" fill="#67001f"/>
<rect x="492.86" y="228.67" width="20.59" height="5.82" fill="#8c0c25"/>
<rect x="514.30" y="228.67" width="20.59" height="5.82" fill="#c43c3c"/>
<rect x="535.74" y="228.67" width="20.59" height="5.82" fill="#fddbc7"/>
<rect x="557.17" y="228.67" width="20.59" height="5.82" fill="#d1e5f0"/>
<rect x="578.61" y="228.67" width="20.59" height="5.82" fill="#f4a582"/>
<rect x="600.05" y="228.67" width="20.59" height="5.82" fill="#f8c0a4"/>
<rect x="621.49" y="228.67" width="20.59" height="5.82" fill="#f8c0a4"/>
<rect x="642.93" y="228.67" width="20.59" height="5.82" fill="#92c5de"/>
<rect x="664.37" y="228.67" width="20.59" height="5.82" fill="#f7f7f7"/>
<rect x="685.81" y="228.67" width="20.59" height="5.82" fill="#d6604d"/>
<line x1="403.9" x2="406.6" y1="231.56" y2="231.56" stroke="#333" stroke-width="0.55"/>
<text x="402.0" y="233.91" font-size="6.1" text-anchor="end">PDGFRA</text>
<rect x="407.10" y="238.32" width="20.59" height="5.82" fill="#1f3d75"/>
<rect x="428.54" y="238.32" width="20.59" height="5.82" fill="#fddbc7"/>
<rect x="449.98" y="238.32" width="20.59" height="5.82" fill="#92c5de"/>
<rect x="471.42" y="238.32" width="20.59" height="5.82" fill="#6aacd0"/>
<rect x="492.86" y="238.32" width="20.59" height="5.82" fill="#67001f"/>
<rect x="514.30" y="238.32" width="20.59" height="5.82" fill="#f8c0a4"/>
<rect x="535.74" y="238.32" width="20.59" height="5.82" fill="#e58268"/>
<rect x="557.17" y="238.32" width="20.59" height="5.82" fill="#b2d5e7"/>
<rect x="578.61" y="238.32" width="20.59" height="5.82" fill="#f7f7f7"/>
<rect x="600.05" y="238.32" width="20.59" height="5.82" fill="#d6604d"/>
<rect x="621.49" y="238.32" width="20.59" height="5.82" fill="#d6604d"/>
<rect x="642.93" y="238.32" width="20.59" height="5.82" fill="#f7f7f7"/>
<rect x="664.37" y="238.32" width="20.59" height="5.82" fill="#fddbc7"/>
<rect x="685.81" y="238.32" width="20.59" height="5.82" fill="#b2182b"/>
<line x1="403.9" x2="406.6" y1="241.20" y2="241.20" stroke="#333" stroke-width="0.55"/>
<text x="402.0" y="243.55" font-size="6.1" text-anchor="end">APOA1</text>
<rect x="407.10" y="244.59" width="20.59" height="5.82" fill="#2166ac"/>
<rect x="428.54" y="244.59" width="20.59" height="5.82" fill="#fddbc7"/>
<rect x="449.98" y="244.59" width="20.59" height="5.82" fill="#4393c3"/>
<rect x="471.42" y="244.59" width="20.59" height="5.82" fill="#b2182b"/>
<rect x="492.86" y="244.59" width="20.59" height="5.82" fill="#8c0c25"/>
<rect x="514.30" y="244.59" width="20.59" height="5.82" fill="#b2182b"/>
<rect x="535.74" y="244.59" width="20.59" height="5.82" fill="#d6604d"/>
<rect x="557.17" y="244.59" width="20.59" height="5.82" fill="#f8c0a4"/>
<rect x="578.61" y="244.59" width="20.59" height="5.82" fill="#fddbc7"/>
<rect x="600.05" y="244.59" width="20.59" height="5.82" fill="#f8c0a4"/>
<rect x="621.49" y="244.59" width="20.59" height="5.82" fill="#fddbc7"/>
<rect x="642.93" y="244.59" width="20.59" height="5.82" fill="#327cb8"/>
<rect x="664.37" y="244.59" width="20.59" height="5.82" fill="#f7f7f7"/>
<rect x="685.81" y="244.59" width="20.59" height="5.82" fill="#d6604d"/>
<line x1="403.9" x2="406.6" y1="247.47" y2="247.47" stroke="#333" stroke-width="0.55"/>
<text x="402.0" y="249.82" font-size="6.1" text-anchor="end">GPX2</text>
<rect x="407.10" y="250.85" width="20.59" height="5.82" fill="#92c5de"/>
<rect x="428.54" y="250.85" width="20.59" height="5.82" fill="#f4a582"/>
<rect x="449.98" y="250.85" width="20.59" height="5.82" fill="#b2d5e7"/>
<rect x="471.42" y="250.85" width="20.59" height="5.82" fill="#f7f7f7"/>
<rect x="492.86" y="250.85" width="20.59" height="5.82" fill="#8c0c25"/>
<rect x="514.30" y="250.85" width="20.59" height="5.82" fill="#f4a582"/>
<rect x="535.74" y="250.85" width="20.59" height="5.82" fill="#92c5de"/>
<rect x="557.17" y="250.85" width="20.59" height="5.82" fill="#327cb8"/>
<rect x="578.61" y="250.85" width="20.59" height="5.82" fill="#fae9df"/>
<rect x="600.05" y="250.85" width="20.59" height="5.82" fill="#b2182b"/>
<rect x="621.49" y="250.85" width="20.59" height="5.82" fill="#f8c0a4"/>
<rect x="642.93" y="250.85" width="20.59" height="5.82" fill="#b2d5e7"/>
<rect x="664.37" y="250.85" width="20.59" height="5.82" fill="#fddbc7"/>
<rect x="685.81" y="250.85" width="20.59" height="5.82" fill="#d6604d"/>
<line x1="403.9" x2="406.6" y1="253.74" y2="253.74" stroke="#333" stroke-width="0.55"/>
<text x="402.0" y="256.09" font-size="6.1" text-anchor="end">AMBN</text>
<rect x="407.10" y="260.50" width="20.59" height="5.82" fill="#92c5de"/>
<rect x="428.54" y="260.50" width="20.59" height="5.82" fill="#fddbc7"/>
<rect x="449.98" y="260.50" width="20.59" height="5.82" fill="#327cb8"/>
<rect x="471.42" y="260.50" width="20.59" height="5.82" fill="#fddbc7"/>
<rect x="492.86" y="260.50" width="20.59" height="5.82" fill="#c43c3c"/>
<rect x="514.30" y="260.50" width="20.59" height="5.82" fill="#67001f"/>
<rect x="535.74" y="260.50" width="20.59" height="5.82" fill="#b2182b"/>
<rect x="557.17" y="260.50" width="20.59" height="5.82" fill="#c43c3c"/>
<rect x="578.61" y="260.50" width="20.59" height="5.82" fill="#e4eef4"/>
<rect x="600.05" y="260.50" width="20.59" height="5.82" fill="#f4a582"/>
<rect x="621.49" y="260.50" width="20.59" height="5.82" fill="#fddbc7"/>
<rect x="642.93" y="260.50" width="20.59" height="5.82" fill="#d1e5f0"/>
<rect x="664.37" y="260.50" width="20.59" height="5.82" fill="#e4eef4"/>
<rect x="685.81" y="260.50" width="20.59" height="5.82" fill="#d6604d"/>
<line x1="403.9" x2="406.6" y1="263.38" y2="263.38" stroke="#333" stroke-width="0.55"/>
<text x="402.0" y="265.73" font-size="6.1" text-anchor="end">SPP1</text>
<rect x="407.10" y="266.77" width="20.59" height="5.82" fill="#d1e5f0"/>
<rect x="428.54" y="266.77" width="20.59" height="5.82" fill="#d6604d"/>
<rect x="449.98" y="266.77" width="20.59" height="5.82" fill="#f8c0a4"/>
<rect x="471.42" y="266.77" width="20.59" height="5.82" fill="#b2182b"/>
<rect x="492.86" y="266.77" width="20.59" height="5.82" fill="#d6604d"/>
<rect x="514.30" y="266.77" width="20.59" height="5.82" fill="#67001f"/>
<rect x="535.74" y="266.77" width="20.59" height="5.82" fill="#b2182b"/>
<rect x="557.17" y="266.77" width="20.59" height="5.82" fill="#c43c3c"/>
<rect x="578.61" y="266.77" width="20.59" height="5.82" fill="#fae9df"/>
<rect x="600.05" y="266.77" width="20.59" height="5.82" fill="#fddbc7"/>
<rect x="621.49" y="266.77" width="20.59" height="5.82" fill="#e4eef4"/>
<rect x="642.93" y="266.77" width="20.59" height="5.82" fill="#4393c3"/>
<rect x="664.37" y="266.77" width="20.59" height="5.82" fill="#92c5de"/>
<rect x="685.81" y="266.77" width="20.59" height="5.82" fill="#e58268"/>
<line x1="403.9" x2="406.6" y1="269.65" y2="269.65" stroke="#333" stroke-width="0.55"/>
<text x="402.0" y="272.00" font-size="6.1" text-anchor="end">NANOG</text>
<rect x="407.10" y="273.03" width="20.59" height="5.82" fill="#92c5de"/>
<rect x="428.54" y="273.03" width="20.59" height="5.82" fill="#f4a582"/>
<rect x="449.98" y="273.03" width="20.59" height="5.82" fill="#d1e5f0"/>
<rect x="471.42" y="273.03" width="20.59" height="5.82" fill="#e58268"/>
<rect x="492.86" y="273.03" width="20.59" height="5.82" fill="#d6604d"/>
<rect x="514.30" y="273.03" width="20.59" height="5.82" fill="#67001f"/>
<rect x="535.74" y="273.03" width="20.59" height="5.82" fill="#8c0c25"/>
<rect x="557.17" y="273.03" width="20.59" height="5.82" fill="#b2182b"/>
<rect x="578.61" y="273.03" width="20.59" height="5.82" fill="#fae9df"/>
<rect x="600.05" y="273.03" width="20.59" height="5.82" fill="#f8c0a4"/>
<rect x="621.49" y="273.03" width="20.59" height="5.82" fill="#fddbc7"/>
<rect x="642.93" y="273.03" width="20.59" height="5.82" fill="#92c5de"/>
<rect x="664.37" y="273.03" width="20.59" height="5.82" fill="#d1e5f0"/>
<rect x="685.81" y="273.03" width="20.59" height="5.82" fill="#d6604d"/>
<line x1="403.9" x2="406.6" y1="275.92" y2="275.92" stroke="#333" stroke-width="0.55"/>
<text x="402.0" y="278.27" font-size="6.1" text-anchor="end">GDF3</text>
<rect x="407.10" y="282.68" width="20.59" height="5.82" fill="#f7f7f7"/>
<rect x="428.54" y="282.68" width="20.59" height="5.82" fill="#f8c0a4"/>
<rect x="449.98" y="282.68" width="20.59" height="5.82" fill="#4393c3"/>
<rect x="471.42" y="282.68" width="20.59" height="5.82" fill="#f4a582"/>
<rect x="492.86" y="282.68" width="20.59" height="5.82" fill="#c43c3c"/>
<rect x="514.30" y="282.68" width="20.59" height="5.82" fill="#67001f"/>
<rect x="535.74" y="282.68" width="20.59" height="5.82" fill="#8c0c25"/>
<rect x="557.17" y="282.68" width="20.59" height="5.82" fill="#67001f"/>
<rect x="578.61" y="282.68" width="20.59" height="5.82" fill="#fddbc7"/>
<rect x="600.05" y="282.68" width="20.59" height="5.82" fill="#f4a582"/>
<rect x="621.49" y="282.68" width="20.59" height="5.82" fill="#fae9df"/>
<rect x="642.93" y="282.68" width="20.59" height="5.82" fill="#4393c3"/>
<rect x="664.37" y="282.68" width="20.59" height="5.82" fill="#d1e5f0"/>
<rect x="685.81" y="282.68" width="20.59" height="5.82" fill="#d6604d"/>
<line x1="403.9" x2="406.6" y1="285.56" y2="285.56" stroke="#333" stroke-width="0.55"/>
<text x="402.0" y="287.91" font-size="6.1" text-anchor="end">TDGF1</text>
<rect x="407.10" y="288.95" width="20.59" height="5.82" fill="#92c5de"/>
<rect x="428.54" y="288.95" width="20.59" height="5.82" fill="#f4a582"/>
<rect x="449.98" y="288.95" width="20.59" height="5.82" fill="#d1e5f0"/>
<rect x="471.42" y="288.95" width="20.59" height="5.82" fill="#e58268"/>
<rect x="492.86" y="288.95" width="20.59" height="5.82" fill="#c43c3c"/>
<rect x="514.30" y="288.95" width="20.59" height="5.82" fill="#67001f"/>
<rect x="535.74" y="288.95" width="20.59" height="5.82" fill="#8c0c25"/>
<rect x="557.17" y="288.95" width="20.59" height="5.82" fill="#b2182b"/>
<rect x="578.61" y="288.95" width="20.59" height="5.82" fill="#fae9df"/>
<rect x="600.05" y="288.95" width="20.59" height="5.82" fill="#f8c0a4"/>
<rect x="621.49" y="288.95" width="20.59" height="5.82" fill="#fddbc7"/>
<rect x="642.93" y="288.95" width="20.59" height="5.82" fill="#92c5de"/>
<rect x="664.37" y="288.95" width="20.59" height="5.82" fill="#d1e5f0"/>
<rect x="685.81" y="288.95" width="20.59" height="5.82" fill="#d6604d"/>
<line x1="403.9" x2="406.6" y1="291.83" y2="291.83" stroke="#333" stroke-width="0.55"/>
<text x="402.0" y="294.18" font-size="6.1" text-anchor="end">GDF3</text>
<rect x="407.10" y="295.21" width="20.59" height="5.82" fill="#92c5de"/>
<rect x="428.54" y="295.21" width="20.59" height="5.82" fill="#fae9df"/>
<rect x="449.98" y="295.21" width="20.59" height="5.82" fill="#1f3d75"/>
<rect x="471.42" y="295.21" width="20.59" height="5.82" fill="#205290"/>
<rect x="492.86" y="295.21" width="20.59" height="5.82" fill="#c43c3c"/>
<rect x="514.30" y="295.21" width="20.59" height="5.82" fill="#8c0c25"/>
<rect x="535.74" y="295.21" width="20.59" height="5.82" fill="#67001f"/>
<rect x="557.17" y="295.21" width="20.59" height="5.82" fill="#f4a582"/>
<rect x="578.61" y="295.21" width="20.59" height="5.82" fill="#1f3d75"/>
<rect x="600.05" y="295.21" width="20.59" height="5.82" fill="#f8c0a4"/>
<rect x="621.49" y="295.21" width="20.59" height="5.82" fill="#f8c0a4"/>
<rect x="642.93" y="295.21" width="20.59" height="5.82" fill="#b2d5e7"/>
<rect x="664.37" y="295.21" width="20.59" height="5.82" fill="#e4eef4"/>
<rect x="685.81" y="295.21" width="20.59" height="5.82" fill="#c43c3c"/>
<line x1="403.9" x2="406.6" y1="298.10" y2="298.10" stroke="#333" stroke-width="0.55"/>
<text x="402.0" y="300.45" font-size="6.1" text-anchor="end">LEFTY2</text>
<rect x="407.10" y="304.86" width="20.59" height="5.82" fill="#f7f7f7"/>
<rect x="428.54" y="304.86" width="20.59" height="5.82" fill="#f8c0a4"/>
<rect x="449.98" y="304.86" width="20.59" height="5.82" fill="#4393c3"/>
<rect x="471.42" y="304.86" width="20.59" height="5.82" fill="#f4a582"/>
<rect x="492.86" y="304.86" width="20.59" height="5.82" fill="#c43c3c"/>
<rect x="514.30" y="304.86" width="20.59" height="5.82" fill="#67001f"/>
<rect x="535.74" y="304.86" width="20.59" height="5.82" fill="#8c0c25"/>
<rect x="557.17" y="304.86" width="20.59" height="5.82" fill="#67001f"/>
<rect x="578.61" y="304.86" width="20.59" height="5.82" fill="#fddbc7"/>
<rect x="600.05" y="304.86" width="20.59" height="5.82" fill="#f4a582"/>
<rect x="621.49" y="304.86" width="20.59" height="5.82" fill="#fae9df"/>
<rect x="642.93" y="304.86" width="20.59" height="5.82" fill="#4393c3"/>
<rect x="664.37" y="304.86" width="20.59" height="5.82" fill="#d1e5f0"/>
<rect x="685.81" y="304.86" width="20.59" height="5.82" fill="#d6604d"/>
<line x1="403.9" x2="406.6" y1="307.74" y2="307.74" stroke="#333" stroke-width="0.55"/>
<text x="402.0" y="310.09" font-size="6.1" text-anchor="end">TDGF1</text>
<rect x="407.10" y="311.13" width="20.59" height="5.82" fill="#92c5de"/>
<rect x="428.54" y="311.13" width="20.59" height="5.82" fill="#f4a582"/>
<rect x="449.98" y="311.13" width="20.59" height="5.82" fill="#d1e5f0"/>
<rect x="471.42" y="311.13" width="20.59" height="5.82" fill="#e58268"/>
<rect x="492.86" y="311.13" width="20.59" height="5.82" fill="#c43c3c"/>
<rect x="514.30" y="311.13" width="20.59" height="5.82" fill="#67001f"/>
<rect x="535.74" y="311.13" width="20.59" height="5.82" fill="#8c0c25"/>
<rect x="557.17" y="311.13" width="20.59" height="5.82" fill="#b2182b"/>
<rect x="578.61" y="311.13" width="20.59" height="5.82" fill="#fae9df"/>
<rect x="600.05" y="311.13" width="20.59" height="5.82" fill="#f8c0a4"/>
<rect x="621.49" y="311.13" width="20.59" height="5.82" fill="#fddbc7"/>
<rect x="642.93" y="311.13" width="20.59" height="5.82" fill="#92c5de"/>
<rect x="664.37" y="311.13" width="20.59" height="5.82" fill="#d1e5f0"/>
<rect x="685.81" y="311.13" width="20.59" height="5.82" fill="#d6604d"/>
<line x1="403.9" x2="406.6" y1="314.01" y2="314.01" stroke="#333" stroke-width="0.55"/>
<text x="402.0" y="316.36" font-size="6.1" text-anchor="end">GDF3</text>
<rect x="407.10" y="317.39" width="20.59" height="5.82" fill="#e58268"/>
<rect x="428.54" y="317.39" width="20.59" height="5.82" fill="#b2182b"/>
<rect x="449.98" y="317.39" width="20.59" height="5.82" fill="#f8c0a4"/>
<rect x="471.42" y="317.39" width="20.59" height="5.82" fill="#f7f7f7"/>
<rect x="492.86" y="317.39" width="20.59" height="5.82" fill="#fddbc7"/>
<rect x="514.30" y="317.39" width="20.59" height="5.82" fill="#92c5de"/>
<rect x="535.74" y="317.39" width="20.59" height="5.82" fill="#f7f7f7"/>
<rect x="557.17" y="317.39" width="20.59" height="5.82" fill="#b2182b"/>
<rect x="578.61" y="317.39" width="20.59" height="5.82" fill="#4393c3"/>
<rect x="600.05" y="317.39" width="20.59" height="5.82" fill="#327cb8"/>
<rect x="621.49" y="317.39" width="20.59" height="5.82" fill="#1f3d75"/>
<rect x="642.93" y="317.39" width="20.59" height="5.82" fill="#6aacd0"/>
<rect x="664.37" y="317.39" width="20.59" height="5.82" fill="#327cb8"/>
<rect x="685.81" y="317.39" width="20.59" height="5.82" fill="#f8c0a4"/>
<line x1="403.9" x2="406.6" y1="320.28" y2="320.28" stroke="#333" stroke-width="0.55"/>
<text x="402.0" y="322.63" font-size="6.1" text-anchor="end">TRIM53CP</text>
<rect x="407.10" y="327.04" width="20.59" height="5.82" fill="#d1e5f0"/>
<rect x="428.54" y="327.04" width="20.59" height="5.82" fill="#f4a582"/>
<rect x="449.98" y="327.04" width="20.59" height="5.82" fill="#fddbc7"/>
<rect x="471.42" y="327.04" width="20.59" height="5.82" fill="#e58268"/>
<rect x="492.86" y="327.04" width="20.59" height="5.82" fill="#e58268"/>
<rect x="514.30" y="327.04" width="20.59" height="5.82" fill="#f8c0a4"/>
<rect x="535.74" y="327.04" width="20.59" height="5.82" fill="#f7f7f7"/>
<rect x="557.17" y="327.04" width="20.59" height="5.82" fill="#327cb8"/>
<rect x="578.61" y="327.04" width="20.59" height="5.82" fill="#67001f"/>
<rect x="600.05" y="327.04" width="20.59" height="5.82" fill="#8c0c25"/>
<rect x="621.49" y="327.04" width="20.59" height="5.82" fill="#f8c0a4"/>
<rect x="642.93" y="327.04" width="20.59" height="5.82" fill="#e4eef4"/>
<rect x="664.37" y="327.04" width="20.59" height="5.82" fill="#b2d5e7"/>
<rect x="685.81" y="327.04" width="20.59" height="5.82" fill="#d6604d"/>
<line x1="403.9" x2="406.6" y1="329.92" y2="329.92" stroke="#333" stroke-width="0.55"/>
<text x="402.0" y="332.27" font-size="6.1" text-anchor="end">CLDN10</text>
<rect x="407.10" y="333.31" width="20.59" height="5.82" fill="#d1e5f0"/>
<rect x="428.54" y="333.31" width="20.59" height="5.82" fill="#c43c3c"/>
<rect x="449.98" y="333.31" width="20.59" height="5.82" fill="#8c0c25"/>
<rect x="471.42" y="333.31" width="20.59" height="5.82" fill="#b2182b"/>
<rect x="492.86" y="333.31" width="20.59" height="5.82" fill="#d6604d"/>
<rect x="514.30" y="333.31" width="20.59" height="5.82" fill="#c43c3c"/>
<rect x="535.74" y="333.31" width="20.59" height="5.82" fill="#f4a582"/>
<rect x="557.17" y="333.31" width="20.59" height="5.82" fill="#6aacd0"/>
<rect x="578.61" y="333.31" width="20.59" height="5.82" fill="#d6604d"/>
<rect x="600.05" y="333.31" width="20.59" height="5.82" fill="#fddbc7"/>
<rect x="621.49" y="333.31" width="20.59" height="5.82" fill="#d1e5f0"/>
<rect x="642.93" y="333.31" width="20.59" height="5.82" fill="#f7f7f7"/>
<rect x="664.37" y="333.31" width="20.59" height="5.82" fill="#4393c3"/>
<rect x="685.81" y="333.31" width="20.59" height="5.82" fill="#f7f7f7"/>
<line x1="403.9" x2="406.6" y1="336.19" y2="336.19" stroke="#333" stroke-width="0.55"/>
<text x="402.0" y="338.54" font-size="6.1" text-anchor="end">FAM151A</text>
<rect x="407.10" y="339.57" width="20.59" height="5.82" fill="#b2d5e7"/>
<rect x="428.54" y="339.57" width="20.59" height="5.82" fill="#f8c0a4"/>
<rect x="449.98" y="339.57" width="20.59" height="5.82" fill="#fddbc7"/>
<rect x="471.42" y="339.57" width="20.59" height="5.82" fill="#e58268"/>
<rect x="492.86" y="339.57" width="20.59" height="5.82" fill="#e58268"/>
<rect x="514.30" y="339.57" width="20.59" height="5.82" fill="#f8c0a4"/>
<rect x="535.74" y="339.57" width="20.59" height="5.82" fill="#fddbc7"/>
<rect x="557.17" y="339.57" width="20.59" height="5.82" fill="#2166ac"/>
<rect x="578.61" y="339.57" width="20.59" height="5.82" fill="#b2182b"/>
<rect x="600.05" y="339.57" width="20.59" height="5.82" fill="#c43c3c"/>
<rect x="621.49" y="339.57" width="20.59" height="5.82" fill="#d6604d"/>
<rect x="642.93" y="339.57" width="20.59" height="5.82" fill="#f4a582"/>
<rect x="664.37" y="339.57" width="20.59" height="5.82" fill="#f8c0a4"/>
<rect x="685.81" y="339.57" width="20.59" height="5.82" fill="#c43c3c"/>
<line x1="403.9" x2="406.6" y1="342.46" y2="342.46" stroke="#333" stroke-width="0.55"/>
<text x="402.0" y="344.81" font-size="6.1" text-anchor="end">PTGES</text>
<rect x="407.10" y="349.22" width="20.59" height="5.82" fill="#92c5de"/>
<rect x="428.54" y="349.22" width="20.59" height="5.82" fill="#fddbc7"/>
<rect x="449.98" y="349.22" width="20.59" height="5.82" fill="#6aacd0"/>
<rect x="471.42" y="349.22" width="20.59" height="5.82" fill="#fddbc7"/>
<rect x="492.86" y="349.22" width="20.59" height="5.82" fill="#c43c3c"/>
<rect x="514.30" y="349.22" width="20.59" height="5.82" fill="#fddbc7"/>
<rect x="535.74" y="349.22" width="20.59" height="5.82" fill="#f4a582"/>
<rect x="557.17" y="349.22" width="20.59" height="5.82" fill="#6aacd0"/>
<rect x="578.61" y="349.22" width="20.59" height="5.82" fill="#fae9df"/>
<rect x="600.05" y="349.22" width="20.59" height="5.82" fill="#8c0c25"/>
<rect x="621.49" y="349.22" width="20.59" height="5.82" fill="#67001f"/>
<rect x="642.93" y="349.22" width="20.59" height="5.82" fill="#d6604d"/>
<rect x="664.37" y="349.22" width="20.59" height="5.82" fill="#d6604d"/>
<rect x="685.81" y="349.22" width="20.59" height="5.82" fill="#b2182b"/>
<line x1="403.9" x2="406.6" y1="352.10" y2="352.10" stroke="#333" stroke-width="0.55"/>
<text x="402.0" y="354.45" font-size="6.1" text-anchor="end">KRT19</text>
<rect x="407.10" y="355.49" width="20.59" height="5.82" fill="#6aacd0"/>
<rect x="428.54" y="355.49" width="20.59" height="5.82" fill="#f7f7f7"/>
<rect x="449.98" y="355.49" width="20.59" height="5.82" fill="#d1e5f0"/>
<rect x="471.42" y="355.49" width="20.59" height="5.82" fill="#e58268"/>
<rect x="492.86" y="355.49" width="20.59" height="5.82" fill="#c43c3c"/>
<rect x="514.30" y="355.49" width="20.59" height="5.82" fill="#f4a582"/>
<rect x="535.74" y="355.49" width="20.59" height="5.82" fill="#f4a582"/>
<rect x="557.17" y="355.49" width="20.59" height="5.82" fill="#f7f7f7"/>
<rect x="578.61" y="355.49" width="20.59" height="5.82" fill="#d6604d"/>
<rect x="600.05" y="355.49" width="20.59" height="5.82" fill="#c43c3c"/>
<rect x="621.49" y="355.49" width="20.59" height="5.82" fill="#b2182b"/>
<rect x="642.93" y="355.49" width="20.59" height="5.82" fill="#c43c3c"/>
<rect x="664.37" y="355.49" width="20.59" height="5.82" fill="#e58268"/>
<rect x="685.81" y="355.49" width="20.59" height="5.82" fill="#b2182b"/>
<line x1="403.9" x2="406.6" y1="358.37" y2="358.37" stroke="#333" stroke-width="0.55"/>
<text x="402.0" y="360.72" font-size="6.1" text-anchor="end">KRT18</text>
<rect x="407.10" y="361.75" width="20.59" height="5.82" fill="#b2d5e7"/>
<rect x="428.54" y="361.75" width="20.59" height="5.82" fill="#f8c0a4"/>
<rect x="449.98" y="361.75" width="20.59" height="5.82" fill="#92c5de"/>
<rect x="471.42" y="361.75" width="20.59" height="5.82" fill="#f4a582"/>
<rect x="492.86" y="361.75" width="20.59" height="5.82" fill="#d6604d"/>
<rect x="514.30" y="361.75" width="20.59" height="5.82" fill="#f8c0a4"/>
<rect x="535.74" y="361.75" width="20.59" height="5.82" fill="#f4a582"/>
<rect x="557.17" y="361.75" width="20.59" height="5.82" fill="#327cb8"/>
<rect x="578.61" y="361.75" width="20.59" height="5.82" fill="#f4a582"/>
<rect x="600.05" y="361.75" width="20.59" height="5.82" fill="#67001f"/>
<rect x="621.49" y="361.75" width="20.59" height="5.82" fill="#b2182b"/>
<rect x="642.93" y="361.75" width="20.59" height="5.82" fill="#f4a582"/>
<rect x="664.37" y="361.75" width="20.59" height="5.82" fill="#fddbc7"/>
<rect x="685.81" y="361.75" width="20.59" height="5.82" fill="#d6604d"/>
<line x1="403.9" x2="406.6" y1="364.64" y2="364.64" stroke="#333" stroke-width="0.55"/>
<text x="402.0" y="366.99" font-size="6.1" text-anchor="end">FABP3</text>
<rect x="407.10" y="371.40" width="20.59" height="5.82" fill="#92c5de"/>
<rect x="428.54" y="371.40" width="20.59" height="5.82" fill="#f8c0a4"/>
<rect x="449.98" y="371.40" width="20.59" height="5.82" fill="#6aacd0"/>
<rect x="471.42" y="371.40" width="20.59" height="5.82" fill="#1f3d75"/>
<rect x="492.86" y="371.40" width="20.59" height="5.82" fill="#c43c3c"/>
<rect x="514.30" y="371.40" width="20.59" height="5.82" fill="#327cb8"/>
<rect x="535.74" y="371.40" width="20.59" height="5.82" fill="#e58268"/>
<rect x="557.17" y="371.40" width="20.59" height="5.82" fill="#fddbc7"/>
<rect x="578.61" y="371.40" width="20.59" height="5.82" fill="#2166ac"/>
<rect x="600.05" y="371.40" width="20.59" height="5.82" fill="#f8c0a4"/>
<rect x="621.49" y="371.40" width="20.59" height="5.82" fill="#8c0c25"/>
<rect x="642.93" y="371.40" width="20.59" height="5.82" fill="#8c0c25"/>
<rect x="664.37" y="371.40" width="20.59" height="5.82" fill="#c43c3c"/>
<rect x="685.81" y="371.40" width="20.59" height="5.82" fill="#67001f"/>
<line x1="403.9" x2="406.6" y1="374.28" y2="374.28" stroke="#333" stroke-width="0.55"/>
<text x="402.0" y="376.63" font-size="6.1" text-anchor="end">CGA</text>
<rect x="407.10" y="377.67" width="20.59" height="5.82" fill="#92c5de"/>
<rect x="428.54" y="377.67" width="20.59" height="5.82" fill="#fddbc7"/>
<rect x="449.98" y="377.67" width="20.59" height="5.82" fill="#6aacd0"/>
<rect x="471.42" y="377.67" width="20.59" height="5.82" fill="#fddbc7"/>
<rect x="492.86" y="377.67" width="20.59" height="5.82" fill="#c43c3c"/>
<rect x="514.30" y="377.67" width="20.59" height="5.82" fill="#fddbc7"/>
<rect x="535.74" y="377.67" width="20.59" height="5.82" fill="#f4a582"/>
<rect x="557.17" y="377.67" width="20.59" height="5.82" fill="#6aacd0"/>
<rect x="578.61" y="377.67" width="20.59" height="5.82" fill="#fae9df"/>
<rect x="600.05" y="377.67" width="20.59" height="5.82" fill="#8c0c25"/>
<rect x="621.49" y="377.67" width="20.59" height="5.82" fill="#67001f"/>
<rect x="642.93" y="377.67" width="20.59" height="5.82" fill="#d6604d"/>
<rect x="664.37" y="377.67" width="20.59" height="5.82" fill="#d6604d"/>
<rect x="685.81" y="377.67" width="20.59" height="5.82" fill="#b2182b"/>
<line x1="403.9" x2="406.6" y1="380.55" y2="380.55" stroke="#333" stroke-width="0.55"/>
<text x="402.0" y="382.90" font-size="6.1" text-anchor="end">KRT19</text>
<rect x="407.10" y="383.93" width="20.59" height="5.82" fill="#6aacd0"/>
<rect x="428.54" y="383.93" width="20.59" height="5.82" fill="#f7f7f7"/>
<rect x="449.98" y="383.93" width="20.59" height="5.82" fill="#d1e5f0"/>
<rect x="471.42" y="383.93" width="20.59" height="5.82" fill="#e58268"/>
<rect x="492.86" y="383.93" width="20.59" height="5.82" fill="#c43c3c"/>
<rect x="514.30" y="383.93" width="20.59" height="5.82" fill="#f4a582"/>
<rect x="535.74" y="383.93" width="20.59" height="5.82" fill="#f4a582"/>
<rect x="557.17" y="383.93" width="20.59" height="5.82" fill="#f7f7f7"/>
<rect x="578.61" y="383.93" width="20.59" height="5.82" fill="#d6604d"/>
<rect x="600.05" y="383.93" width="20.59" height="5.82" fill="#c43c3c"/>
<rect x="621.49" y="383.93" width="20.59" height="5.82" fill="#b2182b"/>
<rect x="642.93" y="383.93" width="20.59" height="5.82" fill="#c43c3c"/>
<rect x="664.37" y="383.93" width="20.59" height="5.82" fill="#e58268"/>
<rect x="685.81" y="383.93" width="20.59" height="5.82" fill="#b2182b"/>
<line x1="403.9" x2="406.6" y1="386.82" y2="386.82" stroke="#333" stroke-width="0.55"/>
<text x="402.0" y="389.17" font-size="6.1" text-anchor="end">KRT18</text>
<rect x="407.10" y="393.58" width="20.59" height="5.82" fill="#b2d5e7"/>
<rect x="428.54" y="393.58" width="20.59" height="5.82" fill="#f4a582"/>
<rect x="449.98" y="393.58" width="20.59" height="5.82" fill="#6aacd0"/>
<rect x="471.42" y="393.58" width="20.59" height="5.82" fill="#f8c0a4"/>
<rect x="492.86" y="393.58" width="20.59" height="5.82" fill="#c43c3c"/>
<rect x="514.30" y="393.58" width="20.59" height="5.82" fill="#fae9df"/>
<rect x="535.74" y="393.58" width="20.59" height="5.82" fill="#f8c0a4"/>
<rect x="557.17" y="393.58" width="20.59" height="5.82" fill="#b2d5e7"/>
<rect x="578.61" y="393.58" width="20.59" height="5.82" fill="#f4a582"/>
<rect x="600.05" y="393.58" width="20.59" height="5.82" fill="#c43c3c"/>
<rect x="621.49" y="393.58" width="20.59" height="5.82" fill="#b2182b"/>
<rect x="642.93" y="393.58" width="20.59" height="5.82" fill="#8c0c25"/>
<rect x="664.37" y="393.58" width="20.59" height="5.82" fill="#c43c3c"/>
<rect x="685.81" y="393.58" width="20.59" height="5.82" fill="#8c0c25"/>
<line x1="403.9" x2="406.6" y1="396.46" y2="396.46" stroke="#333" stroke-width="0.55"/>
<text x="402.0" y="398.81" font-size="6.1" text-anchor="end">GATA2</text>
<rect x="407.10" y="399.85" width="20.59" height="5.82" fill="#d1e5f0"/>
<rect x="428.54" y="399.85" width="20.59" height="5.82" fill="#f4a582"/>
<rect x="449.98" y="399.85" width="20.59" height="5.82" fill="#b2d5e7"/>
<rect x="471.42" y="399.85" width="20.59" height="5.82" fill="#f7f7f7"/>
<rect x="492.86" y="399.85" width="20.59" height="5.82" fill="#c43c3c"/>
<rect x="514.30" y="399.85" width="20.59" height="5.82" fill="#fae9df"/>
<rect x="535.74" y="399.85" width="20.59" height="5.82" fill="#f4a582"/>
<rect x="557.17" y="399.85" width="20.59" height="5.82" fill="#d1e5f0"/>
<rect x="578.61" y="399.85" width="20.59" height="5.82" fill="#fae9df"/>
<rect x="600.05" y="399.85" width="20.59" height="5.82" fill="#e58268"/>
<rect x="621.49" y="399.85" width="20.59" height="5.82" fill="#d6604d"/>
<rect x="642.93" y="399.85" width="20.59" height="5.82" fill="#67001f"/>
<rect x="664.37" y="399.85" width="20.59" height="5.82" fill="#b2182b"/>
<rect x="685.81" y="399.85" width="20.59" height="5.82" fill="#8c0c25"/>
<line x1="403.9" x2="406.6" y1="402.73" y2="402.73" stroke="#333" stroke-width="0.55"/>
<text x="402.0" y="405.08" font-size="6.1" text-anchor="end">LCMT1-AS2</text>
<rect x="407.10" y="406.11" width="20.59" height="5.82" fill="#327cb8"/>
<rect x="428.54" y="406.11" width="20.59" height="5.82" fill="#d1e5f0"/>
<rect x="449.98" y="406.11" width="20.59" height="5.82" fill="#2166ac"/>
<rect x="471.42" y="406.11" width="20.59" height="5.82" fill="#f7f7f7"/>
<rect x="492.86" y="406.11" width="20.59" height="5.82" fill="#c43c3c"/>
<rect x="514.30" y="406.11" width="20.59" height="5.82" fill="#fae9df"/>
<rect x="535.74" y="406.11" width="20.59" height="5.82" fill="#f4a582"/>
<rect x="557.17" y="406.11" width="20.59" height="5.82" fill="#f7f7f7"/>
<rect x="578.61" y="406.11" width="20.59" height="5.82" fill="#b2d5e7"/>
<rect x="600.05" y="406.11" width="20.59" height="5.82" fill="#f4a582"/>
<rect x="621.49" y="406.11" width="20.59" height="5.82" fill="#d6604d"/>
<rect x="642.93" y="406.11" width="20.59" height="5.82" fill="#8c0c25"/>
<rect x="664.37" y="406.11" width="20.59" height="5.82" fill="#b2182b"/>
<rect x="685.81" y="406.11" width="20.59" height="5.82" fill="#8c0c25"/>
<line x1="403.9" x2="406.6" y1="409.00" y2="409.00" stroke="#333" stroke-width="0.55"/>
<text x="402.0" y="411.35" font-size="6.1" text-anchor="end">CCR7</text>
<rect x="407.10" y="415.76" width="20.59" height="5.82" fill="#205290"/>
<rect x="428.54" y="415.76" width="20.59" height="5.82" fill="#1f3d75"/>
<rect x="449.98" y="415.76" width="20.59" height="5.82" fill="#327cb8"/>
<rect x="471.42" y="415.76" width="20.59" height="5.82" fill="#e4eef4"/>
<rect x="492.86" y="415.76" width="20.59" height="5.82" fill="#c43c3c"/>
<rect x="514.30" y="415.76" width="20.59" height="5.82" fill="#fae9df"/>
<rect x="535.74" y="415.76" width="20.59" height="5.82" fill="#f8c0a4"/>
<rect x="557.17" y="415.76" width="20.59" height="5.82" fill="#f7f7f7"/>
<rect x="578.61" y="415.76" width="20.59" height="5.82" fill="#b2d5e7"/>
<rect x="600.05" y="415.76" width="20.59" height="5.82" fill="#f8c0a4"/>
<rect x="621.49" y="415.76" width="20.59" height="5.82" fill="#d6604d"/>
<rect x="642.93" y="415.76" width="20.59" height="5.82" fill="#d6604d"/>
<rect x="664.37" y="415.76" width="20.59" height="5.82" fill="#67001f"/>
<rect x="685.81" y="415.76" width="20.59" height="5.82" fill="#8c0c25"/>
<line x1="403.9" x2="406.6" y1="418.64" y2="418.64" stroke="#333" stroke-width="0.55"/>
<text x="402.0" y="420.99" font-size="6.1" text-anchor="end">GJA5</text>
<rect x="407.10" y="422.03" width="20.59" height="5.82" fill="#1f3d75"/>
<rect x="428.54" y="422.03" width="20.59" height="5.82" fill="#d1e5f0"/>
<rect x="449.98" y="422.03" width="20.59" height="5.82" fill="#6aacd0"/>
<rect x="471.42" y="422.03" width="20.59" height="5.82" fill="#e4eef4"/>
<rect x="492.86" y="422.03" width="20.59" height="5.82" fill="#d6604d"/>
<rect x="514.30" y="422.03" width="20.59" height="5.82" fill="#b2d5e7"/>
<rect x="535.74" y="422.03" width="20.59" height="5.82" fill="#fddbc7"/>
<rect x="557.17" y="422.03" width="20.59" height="5.82" fill="#e4eef4"/>
<rect x="578.61" y="422.03" width="20.59" height="5.82" fill="#6aacd0"/>
<rect x="600.05" y="422.03" width="20.59" height="5.82" fill="#fddbc7"/>
<rect x="621.49" y="422.03" width="20.59" height="5.82" fill="#c43c3c"/>
<rect x="642.93" y="422.03" width="20.59" height="5.82" fill="#b2182b"/>
<rect x="664.37" y="422.03" width="20.59" height="5.82" fill="#8c0c25"/>
<rect x="685.81" y="422.03" width="20.59" height="5.82" fill="#8c0c25"/>
<line x1="403.9" x2="406.6" y1="424.91" y2="424.91" stroke="#333" stroke-width="0.55"/>
<text x="402.0" y="427.26" font-size="6.1" text-anchor="end">HSD3B1</text>
<rect x="407.10" y="428.29" width="20.59" height="5.82" fill="#327cb8"/>
<rect x="428.54" y="428.29" width="20.59" height="5.82" fill="#d1e5f0"/>
<rect x="449.98" y="428.29" width="20.59" height="5.82" fill="#2166ac"/>
<rect x="471.42" y="428.29" width="20.59" height="5.82" fill="#f7f7f7"/>
<rect x="492.86" y="428.29" width="20.59" height="5.82" fill="#c43c3c"/>
<rect x="514.30" y="428.29" width="20.59" height="5.82" fill="#fae9df"/>
<rect x="535.74" y="428.29" width="20.59" height="5.82" fill="#f4a582"/>
<rect x="557.17" y="428.29" width="20.59" height="5.82" fill="#f7f7f7"/>
<rect x="578.61" y="428.29" width="20.59" height="5.82" fill="#b2d5e7"/>
<rect x="600.05" y="428.29" width="20.59" height="5.82" fill="#f4a582"/>
<rect x="621.49" y="428.29" width="20.59" height="5.82" fill="#d6604d"/>
<rect x="642.93" y="428.29" width="20.59" height="5.82" fill="#67001f"/>
<rect x="664.37" y="428.29" width="20.59" height="5.82" fill="#b2182b"/>
<rect x="685.81" y="428.29" width="20.59" height="5.82" fill="#8c0c25"/>
<line x1="403.9" x2="406.6" y1="431.18" y2="431.18" stroke="#333" stroke-width="0.55"/>
<text x="402.0" y="433.53" font-size="6.1" text-anchor="end">CCR7</text>
<rect x="407.10" y="437.94" width="20.59" height="5.82" fill="#92c5de"/>
<rect x="428.54" y="437.94" width="20.59" height="5.82" fill="#f8c0a4"/>
<rect x="449.98" y="437.94" width="20.59" height="5.82" fill="#6aacd0"/>
<rect x="471.42" y="437.94" width="20.59" height="5.82" fill="#1f3d75"/>
<rect x="492.86" y="437.94" width="20.59" height="5.82" fill="#c43c3c"/>
<rect x="514.30" y="437.94" width="20.59" height="5.82" fill="#327cb8"/>
<rect x="535.74" y="437.94" width="20.59" height="5.82" fill="#e58268"/>
<rect x="557.17" y="437.94" width="20.59" height="5.82" fill="#fddbc7"/>
<rect x="578.61" y="437.94" width="20.59" height="5.82" fill="#2166ac"/>
<rect x="600.05" y="437.94" width="20.59" height="5.82" fill="#f8c0a4"/>
<rect x="621.49" y="437.94" width="20.59" height="5.82" fill="#8c0c25"/>
<rect x="642.93" y="437.94" width="20.59" height="5.82" fill="#8c0c25"/>
<rect x="664.37" y="437.94" width="20.59" height="5.82" fill="#c43c3c"/>
<rect x="685.81" y="437.94" width="20.59" height="5.82" fill="#67001f"/>
<line x1="403.9" x2="406.6" y1="440.82" y2="440.82" stroke="#333" stroke-width="0.55"/>
<text x="402.0" y="443.17" font-size="6.1" text-anchor="end">CGA</text>
<rect x="407.10" y="444.21" width="20.59" height="5.82" fill="#b2d5e7"/>
<rect x="428.54" y="444.21" width="20.59" height="5.82" fill="#f4a582"/>
<rect x="449.98" y="444.21" width="20.59" height="5.82" fill="#d1e5f0"/>
<rect x="471.42" y="444.21" width="20.59" height="5.82" fill="#d1e5f0"/>
<rect x="492.86" y="444.21" width="20.59" height="5.82" fill="#c43c3c"/>
<rect x="514.30" y="444.21" width="20.59" height="5.82" fill="#f7f7f7"/>
<rect x="535.74" y="444.21" width="20.59" height="5.82" fill="#f4a582"/>
<rect x="557.17" y="444.21" width="20.59" height="5.82" fill="#fae9df"/>
<rect x="578.61" y="444.21" width="20.59" height="5.82" fill="#d1e5f0"/>
<rect x="600.05" y="444.21" width="20.59" height="5.82" fill="#f4a582"/>
<rect x="621.49" y="444.21" width="20.59" height="5.82" fill="#b2182b"/>
<rect x="642.93" y="444.21" width="20.59" height="5.82" fill="#67001f"/>
<rect x="664.37" y="444.21" width="20.59" height="5.82" fill="#8c0c25"/>
<rect x="685.81" y="444.21" width="20.59" height="5.82" fill="#8c0c25"/>
<line x1="403.9" x2="406.6" y1="447.09" y2="447.09" stroke="#333" stroke-width="0.55"/>
<text x="402.0" y="449.44" font-size="6.1" text-anchor="end">PGF</text>
<rect x="407.10" y="450.47" width="20.59" height="5.82" fill="#327cb8"/>
<rect x="428.54" y="450.47" width="20.59" height="5.82" fill="#d1e5f0"/>
<rect x="449.98" y="450.47" width="20.59" height="5.82" fill="#2166ac"/>
<rect x="471.42" y="450.47" width="20.59" height="5.82" fill="#f7f7f7"/>
<rect x="492.86" y="450.47" width="20.59" height="5.82" fill="#c43c3c"/>
<rect x="514.30" y="450.47" width="20.59" height="5.82" fill="#fae9df"/>
<rect x="535.74" y="450.47" width="20.59" height="5.82" fill="#f4a582"/>
<rect x="557.17" y="450.47" width="20.59" height="5.82" fill="#f7f7f7"/>
<rect x="578.61" y="450.47" width="20.59" height="5.82" fill="#b2d5e7"/>
<rect x="600.05" y="450.47" width="20.59" height="5.82" fill="#f4a582"/>
<rect x="621.49" y="450.47" width="20.59" height="5.82" fill="#d6604d"/>
<rect x="642.93" y="450.47" width="20.59" height="5.82" fill="#8c0c25"/>
<rect x="664.37" y="450.47" width="20.59" height="5.82" fill="#b2182b"/>
<rect x="685.81" y="450.47" width="20.59" height="5.82" fill="#8c0c25"/>
<line x1="403.9" x2="406.6" y1="453.36" y2="453.36" stroke="#333" stroke-width="0.55"/>
<text x="402.0" y="455.71" font-size="6.1" text-anchor="end">CCR7</text>
<rect x="707.3" y="149.55" width="15.7" height="18.50" fill="#7583a8"/>
<text x="714.9" y="161.80" font-size="8.2" text-anchor="middle" style="fill:#fff" fill-opacity="0.88">1</text>
<rect x="707.3" y="171.73" width="15.7" height="18.50" fill="#0f8c45"/>
<text x="714.9" y="183.98" font-size="8.2" text-anchor="middle" style="fill:#fff" fill-opacity="0.88">2</text>
<rect x="707.3" y="193.91" width="15.7" height="18.50" fill="#5b74bd"/>
<text x="714.9" y="206.16" font-size="8.2" text-anchor="middle" style="fill:#fff" fill-opacity="0.88">3</text>
<rect x="707.3" y="216.09" width="15.7" height="18.50" fill="#f0b93a"/>
<text x="714.9" y="228.34" font-size="8.2" text-anchor="middle" style="fill:#fff" fill-opacity="0.88">4</text>
<rect x="707.3" y="238.27" width="15.7" height="18.50" fill="#d4535e"/>
<text x="714.9" y="250.52" font-size="8.2" text-anchor="middle" style="fill:#fff" fill-opacity="0.88">5</text>
<rect x="707.3" y="260.45" width="15.7" height="18.50" fill="#d3a6cf"/>
<text x="714.9" y="272.70" font-size="8.2" text-anchor="middle" style="fill:#fff" fill-opacity="0.88">6</text>
<rect x="707.3" y="282.63" width="15.7" height="18.50" fill="#b97fb8"/>
<text x="714.9" y="294.88" font-size="8.2" text-anchor="middle" style="fill:#fff" fill-opacity="0.88">7</text>
<rect x="707.3" y="304.81" width="15.7" height="18.50" fill="#a4539c"/>
<text x="714.9" y="317.06" font-size="8.2" text-anchor="middle" style="fill:#fff" fill-opacity="0.88">8</text>
<rect x="707.3" y="326.99" width="15.7" height="18.50" fill="#c4dcf0"/>
<text x="714.9" y="339.24" font-size="8.2" text-anchor="middle" style="fill:#333" fill-opacity="0.88">9</text>
<rect x="707.3" y="349.17" width="15.7" height="18.50" fill="#a9c9ea"/>
<text x="714.9" y="361.42" font-size="8.2" text-anchor="middle" style="fill:#333" fill-opacity="0.88">10</text>
<rect x="707.3" y="371.35" width="15.7" height="18.50" fill="#8db5e2"/>
<text x="714.9" y="383.60" font-size="8.2" text-anchor="middle" style="fill:#333" fill-opacity="0.88">11</text>
<rect x="707.3" y="393.53" width="15.7" height="18.50" fill="#7eaade"/>
<text x="714.9" y="405.78" font-size="8.2" text-anchor="middle" style="fill:#333" fill-opacity="0.88">12</text>
<rect x="707.3" y="415.71" width="15.7" height="18.50" fill="#6fa0db"/>
<text x="714.9" y="427.96" font-size="8.2" text-anchor="middle" style="fill:#333" fill-opacity="0.88">13</text>
<rect x="707.3" y="437.89" width="15.7" height="18.50" fill="#4f8fd4"/>
<text x="714.9" y="450.14" font-size="8.2" text-anchor="middle" style="fill:#333" fill-opacity="0.88">14</text>
<line x1="417.82" x2="417.82" y1="457.3" y2="460.1" stroke="#333" stroke-width="0.5"/>
<text transform="translate(421.22,465.0) rotate(-45)" font-size="6.1" text-anchor="end">Prelineage</text>
<line x1="439.26" x2="439.26" y1="457.3" y2="460.1" stroke="#333" stroke-width="0.5"/>
<text transform="translate(442.66,465.0) rotate(-45)" font-size="6.1" text-anchor="end">8C 3.0</text>
<line x1="460.70" x2="460.70" y1="457.3" y2="460.1" stroke="#333" stroke-width="0.5"/>
<text transform="translate(464.10,465.0) rotate(-45)" font-size="6.1" text-anchor="end">Morula 4.0</text>
<line x1="482.14" x2="482.14" y1="457.3" y2="460.1" stroke="#333" stroke-width="0.5"/>
<text transform="translate(485.54,465.0) rotate(-45)" font-size="6.1" text-anchor="end">ICM</text>
<line x1="503.58" x2="503.58" y1="457.3" y2="460.1" stroke="#333" stroke-width="0.5"/>
<text transform="translate(506.98,465.0) rotate(-45)" font-size="6.1" text-anchor="end">PrE</text>
<line x1="525.02" x2="525.02" y1="457.3" y2="460.1" stroke="#333" stroke-width="0.5"/>
<text transform="translate(528.42,465.0) rotate(-45)" font-size="6.1" text-anchor="end">EPI 6.0</text>
<line x1="546.46" x2="546.46" y1="457.3" y2="460.1" stroke="#333" stroke-width="0.5"/>
<text transform="translate(549.86,465.0) rotate(-45)" font-size="6.1" text-anchor="end">EPI 7.0</text>
<line x1="567.89" x2="567.89" y1="457.3" y2="460.1" stroke="#333" stroke-width="0.5"/>
<text transform="translate(571.29,465.0) rotate(-45)" font-size="6.1" text-anchor="end">Late EPI</text>
<line x1="589.33" x2="589.33" y1="457.3" y2="460.1" stroke="#333" stroke-width="0.5"/>
<text transform="translate(592.73,465.0) rotate(-45)" font-size="6.1" text-anchor="end">TE 5.0</text>
<line x1="610.77" x2="610.77" y1="457.3" y2="460.1" stroke="#333" stroke-width="0.5"/>
<text transform="translate(614.17,465.0) rotate(-45)" font-size="6.1" text-anchor="end">TE 6.0</text>
<line x1="632.21" x2="632.21" y1="457.3" y2="460.1" stroke="#333" stroke-width="0.5"/>
<text transform="translate(635.61,465.0) rotate(-45)" font-size="6.1" text-anchor="end">TE 7.0</text>
<line x1="653.65" x2="653.65" y1="457.3" y2="460.1" stroke="#333" stroke-width="0.5"/>
<text transform="translate(657.05,465.0) rotate(-45)" font-size="6.1" text-anchor="end">TE 8.0</text>
<line x1="675.09" x2="675.09" y1="457.3" y2="460.1" stroke="#333" stroke-width="0.5"/>
<text transform="translate(678.49,465.0) rotate(-45)" font-size="6.1" text-anchor="end">TE 9.0</text>
<line x1="696.53" x2="696.53" y1="457.3" y2="460.1" stroke="#333" stroke-width="0.5"/>
<text transform="translate(699.93,465.0) rotate(-45)" font-size="6.1" text-anchor="end">TE 10.0</text>
</svg></body></html>
